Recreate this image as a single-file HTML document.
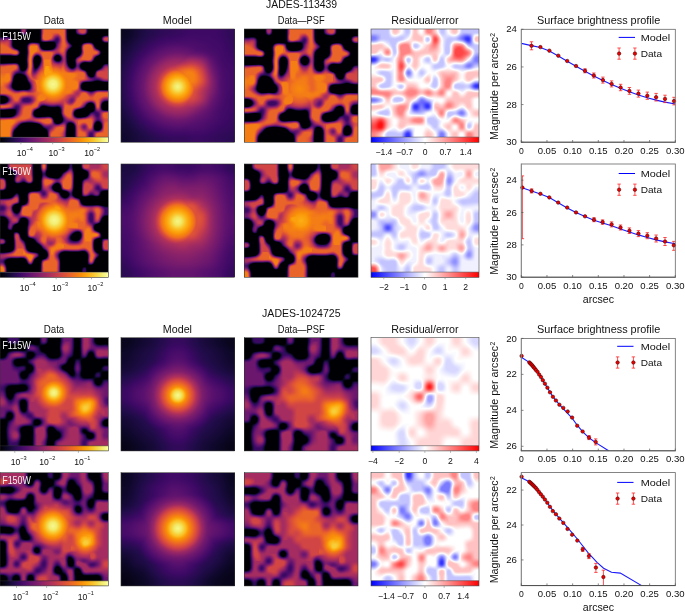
<!DOCTYPE html>
<html><head><meta charset="utf-8"><title>JADES profiles</title>
<style>
html,body{margin:0;padding:0;background:#fff}
#fig{position:relative;width:685px;height:612px;overflow:hidden;background:#fff;font-family:'Liberation Sans', Arial, Helvetica, sans-serif}
canvas{position:absolute;display:block}
svg{position:absolute;left:0;top:0}
svg text{font-family:'Liberation Sans', Arial, Helvetica, sans-serif}
</style></head><body>
<div id="fig">
<canvas id="d0" width="217" height="216" style="left:0.00px;top:29.00px;width:108.30px;height:108.20px;background:radial-gradient(circle at 50% 50%, #fbe070 0, #f28a1a 8%, #b84838 24%, #4a1634 50%, #1c0818 85%)"></canvas>
<canvas id="m0" width="227" height="227" style="left:121.00px;top:29.00px;width:113.60px;height:113.30px;background:radial-gradient(circle at 50% 50%, #fcf0a0 0, #f98e09 9%, #bc3754 17%, #71196e 26%, #3d0965 45%, #1e0a42 80%)"></canvas>
<canvas id="p0" width="227" height="227" style="left:244.30px;top:29.00px;width:113.70px;height:113.30px;background:radial-gradient(circle at 50% 50%, #e86a28 0, #b84838 22%, #4a1634 50%, #1c0818 85%)"></canvas>
<canvas id="r0" width="216" height="216" style="left:371.00px;top:29.00px;width:108.00px;height:108.10px;background:#f3eef6"></canvas>
<canvas id="d1" width="217" height="216" style="left:0.00px;top:164.00px;width:108.30px;height:108.20px;background:radial-gradient(circle at 50% 50%, #fbe070 0, #f28a1a 8%, #b84838 24%, #4a1634 50%, #1c0818 85%)"></canvas>
<canvas id="m1" width="227" height="227" style="left:121.00px;top:164.00px;width:113.60px;height:113.30px;background:radial-gradient(circle at 50% 50%, #fcf0a0 0, #f98e09 9%, #bc3754 17%, #71196e 26%, #3d0965 45%, #1e0a42 80%)"></canvas>
<canvas id="p1" width="227" height="227" style="left:244.30px;top:164.00px;width:113.70px;height:113.30px;background:radial-gradient(circle at 50% 50%, #e86a28 0, #b84838 22%, #4a1634 50%, #1c0818 85%)"></canvas>
<canvas id="r1" width="216" height="216" style="left:371.00px;top:164.00px;width:108.00px;height:108.10px;background:#f3eef6"></canvas>
<canvas id="d2" width="217" height="216" style="left:0.00px;top:337.60px;width:108.30px;height:108.20px;background:radial-gradient(circle at 50% 50%, #fbe070 0, #f28a1a 8%, #b84838 24%, #4a1634 50%, #1c0818 85%)"></canvas>
<canvas id="m2" width="227" height="227" style="left:121.00px;top:337.60px;width:113.60px;height:113.30px;background:radial-gradient(circle at 50% 50%, #fcf0a0 0, #f98e09 9%, #bc3754 17%, #71196e 26%, #3d0965 45%, #1e0a42 80%)"></canvas>
<canvas id="p2" width="227" height="227" style="left:244.30px;top:337.60px;width:113.70px;height:113.30px;background:radial-gradient(circle at 50% 50%, #e86a28 0, #b84838 22%, #4a1634 50%, #1c0818 85%)"></canvas>
<canvas id="r2" width="216" height="216" style="left:371.00px;top:337.60px;width:108.00px;height:108.10px;background:#f3eef6"></canvas>
<canvas id="d3" width="217" height="216" style="left:0.00px;top:472.60px;width:108.30px;height:108.20px;background:radial-gradient(circle at 50% 50%, #fbe070 0, #f28a1a 8%, #b84838 24%, #4a1634 50%, #1c0818 85%)"></canvas>
<canvas id="m3" width="227" height="227" style="left:121.00px;top:472.60px;width:113.60px;height:113.30px;background:radial-gradient(circle at 50% 50%, #fcf0a0 0, #f98e09 9%, #bc3754 17%, #71196e 26%, #3d0965 45%, #1e0a42 80%)"></canvas>
<canvas id="p3" width="227" height="227" style="left:244.30px;top:472.60px;width:113.70px;height:113.30px;background:radial-gradient(circle at 50% 50%, #e86a28 0, #b84838 22%, #4a1634 50%, #1c0818 85%)"></canvas>
<canvas id="r3" width="216" height="216" style="left:371.00px;top:472.60px;width:108.00px;height:108.10px;background:#f3eef6"></canvas>
<svg width="685" height="612" viewBox="0 0 685 612">
<defs><linearGradient id="ginf" x1="0" y1="0" x2="1" y2="0"><stop offset="0.0000" stop-color="#000004"/><stop offset="0.0625" stop-color="#0b0724"/><stop offset="0.1250" stop-color="#210c4a"/><stop offset="0.1875" stop-color="#3d0965"/><stop offset="0.2500" stop-color="#57106e"/><stop offset="0.3125" stop-color="#71196e"/><stop offset="0.3750" stop-color="#8a226a"/><stop offset="0.4375" stop-color="#a32c61"/><stop offset="0.5000" stop-color="#bc3754"/><stop offset="0.5625" stop-color="#d24644"/><stop offset="0.6250" stop-color="#e45a31"/><stop offset="0.6875" stop-color="#f1731d"/><stop offset="0.7500" stop-color="#f98e09"/><stop offset="0.8125" stop-color="#fcac11"/><stop offset="0.8750" stop-color="#f9cb35"/><stop offset="0.9375" stop-color="#f2ea69"/><stop offset="1.0000" stop-color="#fcffa4"/></linearGradient><linearGradient id="gbwr" x1="0" y1="0" x2="1" y2="0"><stop offset="0.0000" stop-color="#0000ff"/><stop offset="0.1250" stop-color="#4040ff"/><stop offset="0.2500" stop-color="#8080ff"/><stop offset="0.3750" stop-color="#c0c0ff"/><stop offset="0.5000" stop-color="#ffffff"/><stop offset="0.6250" stop-color="#ffbebe"/><stop offset="0.7500" stop-color="#ff7e7e"/><stop offset="0.8750" stop-color="#ff3e3e"/><stop offset="1.0000" stop-color="#ff0000"/></linearGradient></defs>
<text x="301.60" y="8.40" font-size="10.2" text-anchor="middle" textLength="71" lengthAdjust="spacingAndGlyphs" fill="#111">JADES-113439</text>
<text x="301.30" y="317.40" font-size="10.2" text-anchor="middle" textLength="78.4" lengthAdjust="spacingAndGlyphs" fill="#111">JADES-1024725</text>
<text x="54.00" y="24.10" font-size="10.1" text-anchor="middle" textLength="20.6" lengthAdjust="spacingAndGlyphs" fill="#111">Data</text>
<text x="177.40" y="24.10" font-size="10.1" text-anchor="middle" textLength="29.2" lengthAdjust="spacingAndGlyphs" fill="#111">Model</text>
<text x="301.20" y="24.10" font-size="10.1" text-anchor="middle" textLength="47" lengthAdjust="spacingAndGlyphs" fill="#111">Data—PSF</text>
<text x="424.90" y="24.10" font-size="10.1" text-anchor="middle" textLength="67.3" lengthAdjust="spacingAndGlyphs" fill="#111">Residual/error</text>
<text x="598.60" y="24.10" font-size="10.1" text-anchor="middle" textLength="123.3" lengthAdjust="spacingAndGlyphs" fill="#111">Surface brightness profile</text>
<text x="54.00" y="332.70" font-size="10.1" text-anchor="middle" textLength="20.6" lengthAdjust="spacingAndGlyphs" fill="#111">Data</text>
<text x="177.40" y="332.70" font-size="10.1" text-anchor="middle" textLength="29.2" lengthAdjust="spacingAndGlyphs" fill="#111">Model</text>
<text x="301.20" y="332.70" font-size="10.1" text-anchor="middle" textLength="47" lengthAdjust="spacingAndGlyphs" fill="#111">Data—PSF</text>
<text x="424.90" y="332.70" font-size="10.1" text-anchor="middle" textLength="67.3" lengthAdjust="spacingAndGlyphs" fill="#111">Residual/error</text>
<text x="598.60" y="332.70" font-size="10.1" text-anchor="middle" textLength="123.3" lengthAdjust="spacingAndGlyphs" fill="#111">Surface brightness profile</text>
<rect x="0.00" y="137.20" width="108.30" height="5.10" fill="url(#ginf)" stroke="none" stroke-width="0.8"/>
<rect x="0.00" y="29.00" width="108.30" height="113.30" fill="none" stroke="#333" stroke-width="0.6"/>
<line x1="0.00" y1="137.20" x2="108.30" y2="137.20" stroke="#333" stroke-width="0.5"/>
<line x1="20.90" y1="142.30" x2="20.90" y2="144.30" stroke="#888" stroke-width="0.6"/>
<text x="16.80" y="156.00" font-size="8.6" fill="#111">10</text>
<text x="26.40" y="151.30" font-size="5.6" fill="#111">−4</text>
<line x1="52.70" y1="142.30" x2="52.70" y2="144.30" stroke="#888" stroke-width="0.6"/>
<text x="48.60" y="156.00" font-size="8.6" fill="#111">10</text>
<text x="58.20" y="151.30" font-size="5.6" fill="#111">−3</text>
<line x1="88.30" y1="142.30" x2="88.30" y2="144.30" stroke="#888" stroke-width="0.6"/>
<text x="84.20" y="156.00" font-size="8.6" fill="#111">10</text>
<text x="93.80" y="151.30" font-size="5.6" fill="#111">−2</text>
<text x="2.20" y="40.20" font-size="10.0" textLength="28.7" lengthAdjust="spacingAndGlyphs" fill="#f4f4f4">F115W</text>
<rect x="121.00" y="29.00" width="113.60" height="113.30" fill="none" stroke="#333" stroke-width="0.6"/>
<rect x="244.30" y="29.00" width="113.70" height="113.30" fill="none" stroke="#333" stroke-width="0.6"/>
<rect x="371.00" y="137.10" width="108.00" height="5.20" fill="url(#gbwr)" stroke="none" stroke-width="0.8"/>
<rect x="371.00" y="29.00" width="108.00" height="113.30" fill="none" stroke="#444" stroke-width="0.6"/>
<line x1="371.00" y1="137.10" x2="479.00" y2="137.10" stroke="#444" stroke-width="0.5"/>
<line x1="383.90" y1="142.30" x2="383.90" y2="144.30" stroke="#888" stroke-width="0.6"/>
<text x="383.90" y="155.00" font-size="8.6" text-anchor="middle" fill="#111">−1.4</text>
<line x1="404.60" y1="142.30" x2="404.60" y2="144.30" stroke="#888" stroke-width="0.6"/>
<text x="404.60" y="155.00" font-size="8.6" text-anchor="middle" fill="#111">−0.7</text>
<line x1="425.10" y1="142.30" x2="425.10" y2="144.30" stroke="#888" stroke-width="0.6"/>
<text x="425.10" y="155.00" font-size="8.6" text-anchor="middle" fill="#111">0</text>
<line x1="445.40" y1="142.30" x2="445.40" y2="144.30" stroke="#888" stroke-width="0.6"/>
<text x="445.40" y="155.00" font-size="8.6" text-anchor="middle" fill="#111">0.7</text>
<line x1="465.70" y1="142.30" x2="465.70" y2="144.30" stroke="#888" stroke-width="0.6"/>
<text x="465.70" y="155.00" font-size="8.6" text-anchor="middle" fill="#111">1.4</text>
<rect x="0.00" y="272.20" width="108.30" height="5.10" fill="url(#ginf)" stroke="none" stroke-width="0.8"/>
<rect x="0.00" y="164.00" width="108.30" height="113.30" fill="none" stroke="#333" stroke-width="0.6"/>
<line x1="0.00" y1="272.20" x2="108.30" y2="272.20" stroke="#333" stroke-width="0.5"/>
<line x1="23.80" y1="277.30" x2="23.80" y2="279.30" stroke="#888" stroke-width="0.6"/>
<text x="19.70" y="291.00" font-size="8.6" fill="#111">10</text>
<text x="29.30" y="286.30" font-size="5.6" fill="#111">−4</text>
<line x1="56.20" y1="277.30" x2="56.20" y2="279.30" stroke="#888" stroke-width="0.6"/>
<text x="52.10" y="291.00" font-size="8.6" fill="#111">10</text>
<text x="61.70" y="286.30" font-size="5.6" fill="#111">−3</text>
<line x1="91.50" y1="277.30" x2="91.50" y2="279.30" stroke="#888" stroke-width="0.6"/>
<text x="87.40" y="291.00" font-size="8.6" fill="#111">10</text>
<text x="97.00" y="286.30" font-size="5.6" fill="#111">−2</text>
<text x="2.20" y="175.20" font-size="10.0" textLength="28.7" lengthAdjust="spacingAndGlyphs" fill="#f4f4f4">F150W</text>
<rect x="121.00" y="164.00" width="113.60" height="113.30" fill="none" stroke="#333" stroke-width="0.6"/>
<rect x="244.30" y="164.00" width="113.70" height="113.30" fill="none" stroke="#333" stroke-width="0.6"/>
<rect x="371.00" y="272.10" width="108.00" height="5.20" fill="url(#gbwr)" stroke="none" stroke-width="0.8"/>
<rect x="371.00" y="164.00" width="108.00" height="113.30" fill="none" stroke="#444" stroke-width="0.6"/>
<line x1="371.00" y1="272.10" x2="479.00" y2="272.10" stroke="#444" stroke-width="0.5"/>
<line x1="383.80" y1="277.30" x2="383.80" y2="279.30" stroke="#888" stroke-width="0.6"/>
<text x="383.80" y="290.00" font-size="8.6" text-anchor="middle" fill="#111">−2</text>
<line x1="404.40" y1="277.30" x2="404.40" y2="279.30" stroke="#888" stroke-width="0.6"/>
<text x="404.40" y="290.00" font-size="8.6" text-anchor="middle" fill="#111">−1</text>
<line x1="424.50" y1="277.30" x2="424.50" y2="279.30" stroke="#888" stroke-width="0.6"/>
<text x="424.50" y="290.00" font-size="8.6" text-anchor="middle" fill="#111">0</text>
<line x1="445.10" y1="277.30" x2="445.10" y2="279.30" stroke="#888" stroke-width="0.6"/>
<text x="445.10" y="290.00" font-size="8.6" text-anchor="middle" fill="#111">1</text>
<line x1="465.70" y1="277.30" x2="465.70" y2="279.30" stroke="#888" stroke-width="0.6"/>
<text x="465.70" y="290.00" font-size="8.6" text-anchor="middle" fill="#111">2</text>
<rect x="0.00" y="445.80" width="108.30" height="5.10" fill="url(#ginf)" stroke="none" stroke-width="0.8"/>
<rect x="0.00" y="337.60" width="108.30" height="113.30" fill="none" stroke="#333" stroke-width="0.6"/>
<line x1="0.00" y1="445.80" x2="108.30" y2="445.80" stroke="#333" stroke-width="0.5"/>
<line x1="14.80" y1="450.90" x2="14.80" y2="452.90" stroke="#888" stroke-width="0.6"/>
<text x="10.70" y="464.60" font-size="8.6" fill="#111">10</text>
<text x="20.30" y="459.90" font-size="5.6" fill="#111">−3</text>
<line x1="43.40" y1="450.90" x2="43.40" y2="452.90" stroke="#888" stroke-width="0.6"/>
<text x="39.30" y="464.60" font-size="8.6" fill="#111">10</text>
<text x="48.90" y="459.90" font-size="5.6" fill="#111">−2</text>
<line x1="78.40" y1="450.90" x2="78.40" y2="452.90" stroke="#888" stroke-width="0.6"/>
<text x="74.30" y="464.60" font-size="8.6" fill="#111">10</text>
<text x="83.90" y="459.90" font-size="5.6" fill="#111">−1</text>
<text x="2.20" y="348.80" font-size="10.0" textLength="28.7" lengthAdjust="spacingAndGlyphs" fill="#f4f4f4">F115W</text>
<rect x="121.00" y="337.60" width="113.60" height="113.30" fill="none" stroke="#333" stroke-width="0.6"/>
<rect x="244.30" y="337.60" width="113.70" height="113.30" fill="none" stroke="#333" stroke-width="0.6"/>
<rect x="371.00" y="445.70" width="108.00" height="5.20" fill="url(#gbwr)" stroke="none" stroke-width="0.8"/>
<rect x="371.00" y="337.60" width="108.00" height="113.30" fill="none" stroke="#444" stroke-width="0.6"/>
<line x1="371.00" y1="445.70" x2="479.00" y2="445.70" stroke="#444" stroke-width="0.5"/>
<line x1="372.90" y1="450.90" x2="372.90" y2="452.90" stroke="#888" stroke-width="0.6"/>
<text x="372.90" y="463.60" font-size="8.6" text-anchor="middle" fill="#111">−4</text>
<line x1="399.20" y1="450.90" x2="399.20" y2="452.90" stroke="#888" stroke-width="0.6"/>
<text x="399.20" y="463.60" font-size="8.6" text-anchor="middle" fill="#111">−2</text>
<line x1="424.90" y1="450.90" x2="424.90" y2="452.90" stroke="#888" stroke-width="0.6"/>
<text x="424.90" y="463.60" font-size="8.6" text-anchor="middle" fill="#111">0</text>
<line x1="450.50" y1="450.90" x2="450.50" y2="452.90" stroke="#888" stroke-width="0.6"/>
<text x="450.50" y="463.60" font-size="8.6" text-anchor="middle" fill="#111">2</text>
<line x1="476.40" y1="450.90" x2="476.40" y2="452.90" stroke="#888" stroke-width="0.6"/>
<text x="476.40" y="463.60" font-size="8.6" text-anchor="middle" fill="#111">4</text>
<rect x="0.00" y="580.80" width="108.30" height="5.10" fill="url(#ginf)" stroke="none" stroke-width="0.8"/>
<rect x="0.00" y="472.60" width="108.30" height="113.30" fill="none" stroke="#333" stroke-width="0.6"/>
<line x1="0.00" y1="580.80" x2="108.30" y2="580.80" stroke="#333" stroke-width="0.5"/>
<line x1="16.50" y1="585.90" x2="16.50" y2="587.90" stroke="#888" stroke-width="0.6"/>
<text x="12.40" y="599.60" font-size="8.6" fill="#111">10</text>
<text x="22.00" y="594.90" font-size="5.6" fill="#111">−3</text>
<line x1="46.60" y1="585.90" x2="46.60" y2="587.90" stroke="#888" stroke-width="0.6"/>
<text x="42.50" y="599.60" font-size="8.6" fill="#111">10</text>
<text x="52.10" y="594.90" font-size="5.6" fill="#111">−2</text>
<line x1="81.90" y1="585.90" x2="81.90" y2="587.90" stroke="#888" stroke-width="0.6"/>
<text x="77.80" y="599.60" font-size="8.6" fill="#111">10</text>
<text x="87.40" y="594.90" font-size="5.6" fill="#111">−1</text>
<text x="2.20" y="483.80" font-size="10.0" textLength="28.7" lengthAdjust="spacingAndGlyphs" fill="#f4f4f4">F150W</text>
<rect x="121.00" y="472.60" width="113.60" height="113.30" fill="none" stroke="#333" stroke-width="0.6"/>
<rect x="244.30" y="472.60" width="113.70" height="113.30" fill="none" stroke="#333" stroke-width="0.6"/>
<rect x="371.00" y="580.70" width="108.00" height="5.20" fill="url(#gbwr)" stroke="none" stroke-width="0.8"/>
<rect x="371.00" y="472.60" width="108.00" height="113.30" fill="none" stroke="#444" stroke-width="0.6"/>
<line x1="371.00" y1="580.70" x2="479.00" y2="580.70" stroke="#444" stroke-width="0.5"/>
<line x1="386.40" y1="585.90" x2="386.40" y2="587.90" stroke="#888" stroke-width="0.6"/>
<text x="386.40" y="598.60" font-size="8.6" text-anchor="middle" fill="#111">−1.4</text>
<line x1="405.60" y1="585.90" x2="405.60" y2="587.90" stroke="#888" stroke-width="0.6"/>
<text x="405.60" y="598.60" font-size="8.6" text-anchor="middle" fill="#111">−0.7</text>
<line x1="424.90" y1="585.90" x2="424.90" y2="587.90" stroke="#888" stroke-width="0.6"/>
<text x="424.90" y="598.60" font-size="8.6" text-anchor="middle" fill="#111">0</text>
<line x1="444.20" y1="585.90" x2="444.20" y2="587.90" stroke="#888" stroke-width="0.6"/>
<text x="444.20" y="598.60" font-size="8.6" text-anchor="middle" fill="#111">0.7</text>
<line x1="463.30" y1="585.90" x2="463.30" y2="587.90" stroke="#888" stroke-width="0.6"/>
<text x="463.30" y="598.60" font-size="8.6" text-anchor="middle" fill="#111">1.4</text>
<clipPath id="cp0"><rect x="521.3" y="29.3" width="154.0" height="112.89999999999999"/></clipPath>
<polyline points="521.30,43.40 531.50,45.60 540.40,47.50 549.40,51.00 558.30,56.00 567.20,61.20 576.00,66.20 585.00,71.20 593.80,75.90 602.90,80.40 611.60,84.50 620.60,88.30 629.40,91.80 638.40,94.90 647.30,97.70 656.10,100.10 665.00,102.10 675.30,104.00" fill="none" stroke="#1a1aff" stroke-width="1.1" clip-path="url(#cp0)"/>
<path d="M531.50 41.80V49.80M529.80 41.80h3.4M529.80 49.80h3.4M585.00 68.80V72.80M583.30 68.80h3.4M583.30 72.80h3.4M593.80 73.00V78.00M592.10 73.00h3.4M592.10 78.00h3.4M602.90 77.10V83.10M601.20 77.10h3.4M601.20 83.10h3.4M611.60 80.90V86.90M609.90 80.90h3.4M609.90 86.90h3.4M620.60 84.30V90.70M618.90 84.30h3.4M618.90 90.70h3.4M629.40 87.50V94.30M627.70 87.50h3.4M627.70 94.30h3.4M638.40 90.10V97.10M636.70 90.10h3.4M636.70 97.10h3.4M647.30 92.10V99.30M645.60 92.10h3.4M645.60 99.30h3.4M656.10 93.40V101.00M654.40 93.40h3.4M654.40 101.00h3.4M665.00 95.20V102.60M663.30 95.20h3.4M663.30 102.60h3.4M674.00 97.30V104.90M672.30 97.30h3.4M672.30 104.90h3.4" stroke="#ff1a1a" stroke-width="0.85" fill="none" opacity="0.9" clip-path="url(#cp0)"/>
<g fill="#ee0000" stroke="#400000" stroke-width="0.55"><circle cx="531.50" cy="45.80" r="1.75"/><circle cx="540.40" cy="47.10" r="1.75"/><circle cx="549.40" cy="50.70" r="1.75"/><circle cx="558.30" cy="55.70" r="1.75"/><circle cx="567.20" cy="61.00" r="1.75"/><circle cx="576.00" cy="66.00" r="1.75"/><circle cx="585.00" cy="70.80" r="1.75"/><circle cx="593.80" cy="75.50" r="1.75"/><circle cx="602.90" cy="80.10" r="1.75"/><circle cx="611.60" cy="83.90" r="1.75"/><circle cx="620.60" cy="87.50" r="1.75"/><circle cx="629.40" cy="90.90" r="1.75"/><circle cx="638.40" cy="93.60" r="1.75"/><circle cx="647.30" cy="95.70" r="1.75"/><circle cx="656.10" cy="97.20" r="1.75"/><circle cx="665.00" cy="98.90" r="1.75"/><circle cx="674.00" cy="101.10" r="1.75"/></g>
<rect x="521.30" y="29.30" width="154.00" height="112.90" fill="none" stroke="#666" stroke-width="0.8"/>
<line x1="521.30" y1="28.90" x2="521.30" y2="142.60" stroke="#8c8c8c" stroke-width="0.8"/>
<line x1="520.90" y1="142.20" x2="675.70" y2="142.20" stroke="#404040" stroke-width="0.8"/>
<line x1="521.30" y1="29.30" x2="523.50" y2="29.30" stroke="#555" stroke-width="0.7"/>
<text x="516.90" y="32.40" font-size="8.6" text-anchor="end" textLength="10.7" lengthAdjust="spacingAndGlyphs" fill="#111">24</text>
<line x1="521.30" y1="66.93" x2="523.50" y2="66.93" stroke="#555" stroke-width="0.7"/>
<text x="516.90" y="70.03" font-size="8.6" text-anchor="end" textLength="10.7" lengthAdjust="spacingAndGlyphs" fill="#111">26</text>
<line x1="521.30" y1="104.57" x2="523.50" y2="104.57" stroke="#555" stroke-width="0.7"/>
<text x="516.90" y="107.67" font-size="8.6" text-anchor="end" textLength="10.7" lengthAdjust="spacingAndGlyphs" fill="#111">28</text>
<line x1="521.30" y1="142.20" x2="523.50" y2="142.20" stroke="#555" stroke-width="0.7"/>
<text x="516.90" y="145.30" font-size="8.6" text-anchor="end" textLength="10.7" lengthAdjust="spacingAndGlyphs" fill="#111">30</text>
<line x1="521.30" y1="142.20" x2="521.30" y2="140.00" stroke="#555" stroke-width="0.7"/>
<text x="521.30" y="153.80" font-size="8.6" text-anchor="middle" fill="#111">0</text>
<line x1="546.97" y1="142.20" x2="546.97" y2="140.00" stroke="#555" stroke-width="0.7"/>
<text x="546.97" y="153.80" font-size="8.6" text-anchor="middle" textLength="18.6" lengthAdjust="spacingAndGlyphs" fill="#111">0.05</text>
<line x1="572.63" y1="142.20" x2="572.63" y2="140.00" stroke="#555" stroke-width="0.7"/>
<text x="572.63" y="153.80" font-size="8.6" text-anchor="middle" textLength="18.6" lengthAdjust="spacingAndGlyphs" fill="#111">0.10</text>
<line x1="598.30" y1="142.20" x2="598.30" y2="140.00" stroke="#555" stroke-width="0.7"/>
<text x="598.30" y="153.80" font-size="8.6" text-anchor="middle" textLength="18.6" lengthAdjust="spacingAndGlyphs" fill="#111">0.15</text>
<line x1="623.97" y1="142.20" x2="623.97" y2="140.00" stroke="#555" stroke-width="0.7"/>
<text x="623.97" y="153.80" font-size="8.6" text-anchor="middle" textLength="18.6" lengthAdjust="spacingAndGlyphs" fill="#111">0.20</text>
<line x1="649.63" y1="142.20" x2="649.63" y2="140.00" stroke="#555" stroke-width="0.7"/>
<text x="649.63" y="153.80" font-size="8.6" text-anchor="middle" textLength="18.6" lengthAdjust="spacingAndGlyphs" fill="#111">0.25</text>
<line x1="675.30" y1="142.20" x2="675.30" y2="140.00" stroke="#555" stroke-width="0.7"/>
<text x="675.30" y="153.80" font-size="8.6" text-anchor="middle" textLength="18.6" lengthAdjust="spacingAndGlyphs" fill="#111">0.30</text>
<text transform="translate(498.2,140.00) rotate(-90)" font-size="10.0" textLength="103" lengthAdjust="spacingAndGlyphs" fill="#111">Magnitude per arcsec</text>
<text transform="translate(494.6,36.70) rotate(-90)" font-size="6.8" fill="#111">2</text>
<line x1="618.70" y1="37.40" x2="635.00" y2="37.40" stroke="#0000ff" stroke-width="1.0"/>
<text x="640.70" y="41.00" font-size="9.6" textLength="29.5" lengthAdjust="spacingAndGlyphs" fill="#111">Model</text>
<path d="M619.1 47.99999999999999V59.199999999999996M617.4 47.99999999999999h3.4M617.4 59.199999999999996h3.4" stroke="#ff1a1a" stroke-width="0.85" opacity="0.9"/>
<circle cx="619.1" cy="53.599999999999994" r="1.75" fill="#ee0000" stroke="#400000" stroke-width="0.55"/>
<path d="M634.9 47.99999999999999V59.199999999999996M633.1999999999999 47.99999999999999h3.4M633.1999999999999 59.199999999999996h3.4" stroke="#ff1a1a" stroke-width="0.85" opacity="0.9"/>
<circle cx="634.9" cy="53.599999999999994" r="1.75" fill="#ee0000" stroke="#400000" stroke-width="0.55"/>
<text x="640.70" y="57.20" font-size="9.6" textLength="21.3" lengthAdjust="spacingAndGlyphs" fill="#111">Data</text>
<clipPath id="cp1"><rect x="521.3" y="164.0" width="154.0" height="113.19999999999999"/></clipPath>
<polyline points="521.30,187.50 531.60,191.00 540.40,194.00 549.30,197.60 558.20,202.80 567.20,207.90 576.00,212.60 585.00,216.60 594.00,220.20 602.60,223.00 611.60,225.80 620.50,228.90 629.40,232.00 638.40,234.90 647.30,237.50 656.10,239.90 665.00,241.90 675.30,243.80" fill="none" stroke="#1a1aff" stroke-width="1.1" clip-path="url(#cp1)"/>
<path d="M522.40 175.90V238.70M520.70 175.90h3.4M520.70 238.70h3.4M531.60 188.90V192.90M529.90 188.90h3.4M529.90 192.90h3.4M594.00 217.70V221.70M592.30 217.70h3.4M592.30 221.70h3.4M602.60 219.90V224.30M600.90 219.90h3.4M600.90 224.30h3.4M611.60 221.90V226.90M609.90 221.90h3.4M609.90 226.90h3.4M620.50 225.00V230.00M618.80 225.00h3.4M618.80 230.00h3.4M629.40 227.90V233.50M627.70 227.90h3.4M627.70 233.50h3.4M638.40 230.60V236.60M636.70 230.60h3.4M636.70 236.60h3.4M647.30 232.70V238.70M645.60 232.70h3.4M645.60 238.70h3.4M656.10 235.00V242.00M654.40 235.00h3.4M654.40 242.00h3.4M665.00 237.50V245.50M663.30 237.50h3.4M663.30 245.50h3.4M673.80 241.40V250.30M672.10 241.40h3.4M672.10 250.30h3.4" stroke="#ff1a1a" stroke-width="0.85" fill="none" opacity="0.9" clip-path="url(#cp1)"/>
<g fill="#ee0000" stroke="#400000" stroke-width="0.55"><circle cx="522.40" cy="187.60" r="1.75"/><circle cx="531.60" cy="190.90" r="1.75"/><circle cx="540.40" cy="193.80" r="1.75"/><circle cx="549.30" cy="197.40" r="1.75"/><circle cx="558.20" cy="202.60" r="1.75"/><circle cx="567.20" cy="207.60" r="1.75"/><circle cx="576.00" cy="212.40" r="1.75"/><circle cx="585.00" cy="216.30" r="1.75"/><circle cx="594.00" cy="219.70" r="1.75"/><circle cx="602.60" cy="222.10" r="1.75"/><circle cx="611.60" cy="224.40" r="1.75"/><circle cx="620.50" cy="227.50" r="1.75"/><circle cx="629.40" cy="230.70" r="1.75"/><circle cx="638.40" cy="233.60" r="1.75"/><circle cx="647.30" cy="235.70" r="1.75"/><circle cx="656.10" cy="238.50" r="1.75"/><circle cx="665.00" cy="241.50" r="1.75"/><circle cx="673.80" cy="245.30" r="1.75"/></g>
<rect x="521.30" y="164.00" width="154.00" height="113.20" fill="none" stroke="#666" stroke-width="0.8"/>
<line x1="521.30" y1="163.60" x2="521.30" y2="277.60" stroke="#8c8c8c" stroke-width="0.8"/>
<line x1="520.90" y1="277.20" x2="675.70" y2="277.20" stroke="#404040" stroke-width="0.8"/>
<line x1="521.30" y1="180.17" x2="523.50" y2="180.17" stroke="#555" stroke-width="0.7"/>
<text x="516.90" y="183.27" font-size="8.6" text-anchor="end" textLength="10.7" lengthAdjust="spacingAndGlyphs" fill="#111">24</text>
<line x1="521.30" y1="212.51" x2="523.50" y2="212.51" stroke="#555" stroke-width="0.7"/>
<text x="516.90" y="215.61" font-size="8.6" text-anchor="end" textLength="10.7" lengthAdjust="spacingAndGlyphs" fill="#111">26</text>
<line x1="521.30" y1="244.86" x2="523.50" y2="244.86" stroke="#555" stroke-width="0.7"/>
<text x="516.90" y="247.96" font-size="8.6" text-anchor="end" textLength="10.7" lengthAdjust="spacingAndGlyphs" fill="#111">28</text>
<line x1="521.30" y1="277.20" x2="523.50" y2="277.20" stroke="#555" stroke-width="0.7"/>
<text x="516.90" y="280.30" font-size="8.6" text-anchor="end" textLength="10.7" lengthAdjust="spacingAndGlyphs" fill="#111">30</text>
<line x1="521.30" y1="277.20" x2="521.30" y2="275.00" stroke="#555" stroke-width="0.7"/>
<text x="521.30" y="288.80" font-size="8.6" text-anchor="middle" fill="#111">0</text>
<line x1="546.97" y1="277.20" x2="546.97" y2="275.00" stroke="#555" stroke-width="0.7"/>
<text x="546.97" y="288.80" font-size="8.6" text-anchor="middle" textLength="18.6" lengthAdjust="spacingAndGlyphs" fill="#111">0.05</text>
<line x1="572.63" y1="277.20" x2="572.63" y2="275.00" stroke="#555" stroke-width="0.7"/>
<text x="572.63" y="288.80" font-size="8.6" text-anchor="middle" textLength="18.6" lengthAdjust="spacingAndGlyphs" fill="#111">0.10</text>
<line x1="598.30" y1="277.20" x2="598.30" y2="275.00" stroke="#555" stroke-width="0.7"/>
<text x="598.30" y="288.80" font-size="8.6" text-anchor="middle" textLength="18.6" lengthAdjust="spacingAndGlyphs" fill="#111">0.15</text>
<line x1="623.97" y1="277.20" x2="623.97" y2="275.00" stroke="#555" stroke-width="0.7"/>
<text x="623.97" y="288.80" font-size="8.6" text-anchor="middle" textLength="18.6" lengthAdjust="spacingAndGlyphs" fill="#111">0.20</text>
<line x1="649.63" y1="277.20" x2="649.63" y2="275.00" stroke="#555" stroke-width="0.7"/>
<text x="649.63" y="288.80" font-size="8.6" text-anchor="middle" textLength="18.6" lengthAdjust="spacingAndGlyphs" fill="#111">0.25</text>
<line x1="675.30" y1="277.20" x2="675.30" y2="275.00" stroke="#555" stroke-width="0.7"/>
<text x="675.30" y="288.80" font-size="8.6" text-anchor="middle" textLength="18.6" lengthAdjust="spacingAndGlyphs" fill="#111">0.30</text>
<text transform="translate(498.2,274.85) rotate(-90)" font-size="10.0" textLength="103" lengthAdjust="spacingAndGlyphs" fill="#111">Magnitude per arcsec</text>
<text transform="translate(494.6,171.55) rotate(-90)" font-size="6.8" fill="#111">2</text>
<line x1="618.70" y1="173.50" x2="635.00" y2="173.50" stroke="#0000ff" stroke-width="1.0"/>
<text x="640.70" y="177.10" font-size="9.6" textLength="29.5" lengthAdjust="spacingAndGlyphs" fill="#111">Model</text>
<path d="M619.1 184.1V195.29999999999998M617.4 184.1h3.4M617.4 195.29999999999998h3.4" stroke="#ff1a1a" stroke-width="0.85" opacity="0.9"/>
<circle cx="619.1" cy="189.7" r="1.75" fill="#ee0000" stroke="#400000" stroke-width="0.55"/>
<path d="M634.9 184.1V195.29999999999998M633.1999999999999 184.1h3.4M633.1999999999999 195.29999999999998h3.4" stroke="#ff1a1a" stroke-width="0.85" opacity="0.9"/>
<circle cx="634.9" cy="189.7" r="1.75" fill="#ee0000" stroke="#400000" stroke-width="0.55"/>
<text x="640.70" y="193.30" font-size="9.6" textLength="21.3" lengthAdjust="spacingAndGlyphs" fill="#111">Data</text>
<text x="598.40" y="302.50" font-size="10.0" text-anchor="middle" textLength="31.2" lengthAdjust="spacingAndGlyphs" fill="#111">arcsec</text>
<clipPath id="cp2"><rect x="521.3" y="338.4" width="154.0" height="112.40000000000003"/></clipPath>
<polyline points="521.30,357.30 529.30,362.40 533.40,366.90 537.50,371.80 542.80,380.20 547.40,387.90 552.90,396.80 559.40,404.70 566.00,411.60 572.10,418.20 577.20,425.20 582.60,431.60 589.00,437.80 595.70,442.60 608.60,450.80" fill="none" stroke="#1a1aff" stroke-width="1.1" clip-path="url(#cp2)"/>
<path d="M589.00 435.60V439.60M587.30 435.60h3.4M587.30 439.60h3.4M595.70 438.90V444.90M594.00 438.90h3.4M594.00 444.90h3.4" stroke="#ff1a1a" stroke-width="0.85" fill="none" opacity="0.9" clip-path="url(#cp2)"/>
<g fill="#ee0000" stroke="#400000" stroke-width="0.55"><circle cx="521.60" cy="355.90" r="1.75"/><circle cx="529.30" cy="362.40" r="1.75"/><circle cx="530.30" cy="363.40" r="1.75"/><circle cx="531.30" cy="364.40" r="1.75"/><circle cx="532.40" cy="365.60" r="1.75"/><circle cx="533.40" cy="366.90" r="1.75"/><circle cx="534.60" cy="368.30" r="1.75"/><circle cx="535.90" cy="370.00" r="1.75"/><circle cx="537.50" cy="371.80" r="1.75"/><circle cx="539.20" cy="374.60" r="1.75"/><circle cx="541.00" cy="377.10" r="1.75"/><circle cx="542.80" cy="380.20" r="1.75"/><circle cx="544.90" cy="383.70" r="1.75"/><circle cx="547.40" cy="387.70" r="1.75"/><circle cx="550.00" cy="392.30" r="1.75"/><circle cx="552.90" cy="396.80" r="1.75"/><circle cx="555.90" cy="400.50" r="1.75"/><circle cx="559.40" cy="404.70" r="1.75"/><circle cx="563.30" cy="407.90" r="1.75"/><circle cx="567.70" cy="411.50" r="1.75"/><circle cx="572.10" cy="417.60" r="1.75"/><circle cx="577.20" cy="425.70" r="1.75"/><circle cx="582.60" cy="431.50" r="1.75"/><circle cx="589.00" cy="437.60" r="1.75"/><circle cx="595.70" cy="441.90" r="1.75"/></g>
<rect x="521.30" y="338.40" width="154.00" height="112.40" fill="none" stroke="#666" stroke-width="0.8"/>
<line x1="521.30" y1="338.00" x2="521.30" y2="451.20" stroke="#8c8c8c" stroke-width="0.8"/>
<line x1="520.90" y1="450.80" x2="675.70" y2="450.80" stroke="#404040" stroke-width="0.8"/>
<line x1="521.30" y1="338.40" x2="523.50" y2="338.40" stroke="#555" stroke-width="0.7"/>
<text x="516.90" y="341.50" font-size="8.6" text-anchor="end" textLength="10.7" lengthAdjust="spacingAndGlyphs" fill="#111">20</text>
<line x1="521.30" y1="374.37" x2="523.50" y2="374.37" stroke="#555" stroke-width="0.7"/>
<text x="516.90" y="377.47" font-size="8.6" text-anchor="end" textLength="10.7" lengthAdjust="spacingAndGlyphs" fill="#111">22</text>
<line x1="521.30" y1="410.34" x2="523.50" y2="410.34" stroke="#555" stroke-width="0.7"/>
<text x="516.90" y="413.44" font-size="8.6" text-anchor="end" textLength="10.7" lengthAdjust="spacingAndGlyphs" fill="#111">24</text>
<line x1="521.30" y1="446.30" x2="523.50" y2="446.30" stroke="#555" stroke-width="0.7"/>
<text x="516.90" y="449.40" font-size="8.6" text-anchor="end" textLength="10.7" lengthAdjust="spacingAndGlyphs" fill="#111">26</text>
<line x1="521.30" y1="450.80" x2="521.30" y2="448.60" stroke="#555" stroke-width="0.7"/>
<text x="521.30" y="462.40" font-size="8.6" text-anchor="middle" fill="#111">0</text>
<line x1="546.97" y1="450.80" x2="546.97" y2="448.60" stroke="#555" stroke-width="0.7"/>
<text x="546.97" y="462.40" font-size="8.6" text-anchor="middle" textLength="18.6" lengthAdjust="spacingAndGlyphs" fill="#111">0.05</text>
<line x1="572.63" y1="450.80" x2="572.63" y2="448.60" stroke="#555" stroke-width="0.7"/>
<text x="572.63" y="462.40" font-size="8.6" text-anchor="middle" textLength="18.6" lengthAdjust="spacingAndGlyphs" fill="#111">0.10</text>
<line x1="598.30" y1="450.80" x2="598.30" y2="448.60" stroke="#555" stroke-width="0.7"/>
<text x="598.30" y="462.40" font-size="8.6" text-anchor="middle" textLength="18.6" lengthAdjust="spacingAndGlyphs" fill="#111">0.15</text>
<line x1="623.97" y1="450.80" x2="623.97" y2="448.60" stroke="#555" stroke-width="0.7"/>
<text x="623.97" y="462.40" font-size="8.6" text-anchor="middle" textLength="18.6" lengthAdjust="spacingAndGlyphs" fill="#111">0.20</text>
<line x1="649.63" y1="450.80" x2="649.63" y2="448.60" stroke="#555" stroke-width="0.7"/>
<text x="649.63" y="462.40" font-size="8.6" text-anchor="middle" textLength="18.6" lengthAdjust="spacingAndGlyphs" fill="#111">0.25</text>
<line x1="675.30" y1="450.80" x2="675.30" y2="448.60" stroke="#555" stroke-width="0.7"/>
<text x="675.30" y="462.40" font-size="8.6" text-anchor="middle" textLength="18.6" lengthAdjust="spacingAndGlyphs" fill="#111">0.30</text>
<text transform="translate(498.2,448.85) rotate(-90)" font-size="10.0" textLength="103" lengthAdjust="spacingAndGlyphs" fill="#111">Magnitude per arcsec</text>
<text transform="translate(494.6,345.55) rotate(-90)" font-size="6.8" fill="#111">2</text>
<line x1="617.20" y1="346.30" x2="633.50" y2="346.30" stroke="#0000ff" stroke-width="1.0"/>
<text x="640.70" y="349.90" font-size="9.6" textLength="29.5" lengthAdjust="spacingAndGlyphs" fill="#111">Model</text>
<path d="M617.6 356.8999999999999V368.09999999999997M615.9 356.8999999999999h3.4M615.9 368.09999999999997h3.4" stroke="#ff1a1a" stroke-width="0.85" opacity="0.9"/>
<circle cx="617.6" cy="362.49999999999994" r="1.75" fill="#ee0000" stroke="#400000" stroke-width="0.55"/>
<path d="M633.4 356.8999999999999V368.09999999999997M631.6999999999999 356.8999999999999h3.4M631.6999999999999 368.09999999999997h3.4" stroke="#ff1a1a" stroke-width="0.85" opacity="0.9"/>
<circle cx="633.4" cy="362.49999999999994" r="1.75" fill="#ee0000" stroke="#400000" stroke-width="0.55"/>
<text x="640.70" y="366.10" font-size="9.6" textLength="21.3" lengthAdjust="spacingAndGlyphs" fill="#111">Data</text>
<clipPath id="cp3"><rect x="521.3" y="472.6" width="154.0" height="113.0"/></clipPath>
<polyline points="521.30,477.70 529.30,481.80 533.40,485.50 537.30,489.70 542.80,496.70 547.30,502.70 552.80,510.50 559.30,518.20 568.10,528.10 577.30,539.00 587.80,552.40 597.00,562.30 603.60,568.20 611.50,572.20 620.30,573.10 641.70,585.60" fill="none" stroke="#1a1aff" stroke-width="1.1" clip-path="url(#cp3)"/>
<path d="M582.70 547.40V551.40M581.00 547.40h3.4M581.00 551.40h3.4M588.90 553.60V558.60M587.20 553.60h3.4M587.20 558.60h3.4M595.90 563.40V572.40M594.20 563.40h3.4M594.20 572.40h3.4M603.40 570.20V585.90M601.70 570.20h3.4M601.70 585.90h3.4" stroke="#ff1a1a" stroke-width="0.85" fill="none" opacity="0.9" clip-path="url(#cp3)"/>
<g fill="#ee0000" stroke="#400000" stroke-width="0.55"><circle cx="521.60" cy="476.70" r="1.75"/><circle cx="529.30" cy="481.80" r="1.75"/><circle cx="530.30" cy="482.60" r="1.75"/><circle cx="531.30" cy="483.50" r="1.75"/><circle cx="532.40" cy="484.50" r="1.75"/><circle cx="533.40" cy="485.50" r="1.75"/><circle cx="534.60" cy="486.70" r="1.75"/><circle cx="535.90" cy="488.00" r="1.75"/><circle cx="537.30" cy="489.70" r="1.75"/><circle cx="539.00" cy="492.00" r="1.75"/><circle cx="540.80" cy="494.20" r="1.75"/><circle cx="542.80" cy="496.70" r="1.75"/><circle cx="544.90" cy="499.50" r="1.75"/><circle cx="547.30" cy="502.70" r="1.75"/><circle cx="549.90" cy="506.80" r="1.75"/><circle cx="552.80" cy="511.10" r="1.75"/><circle cx="555.90" cy="514.20" r="1.75"/><circle cx="559.30" cy="518.50" r="1.75"/><circle cx="563.30" cy="522.90" r="1.75"/><circle cx="567.50" cy="528.90" r="1.75"/><circle cx="572.10" cy="534.70" r="1.75"/><circle cx="577.30" cy="540.60" r="1.75"/><circle cx="582.70" cy="549.40" r="1.75"/><circle cx="588.90" cy="556.10" r="1.75"/><circle cx="595.90" cy="567.60" r="1.75"/><circle cx="603.40" cy="577.00" r="1.75"/></g>
<rect x="521.30" y="472.60" width="154.00" height="113.00" fill="none" stroke="#666" stroke-width="0.8"/>
<line x1="521.30" y1="472.20" x2="521.30" y2="586.00" stroke="#8c8c8c" stroke-width="0.8"/>
<line x1="520.90" y1="585.60" x2="675.70" y2="585.60" stroke="#404040" stroke-width="0.8"/>
<line x1="521.30" y1="490.07" x2="523.50" y2="490.07" stroke="#555" stroke-width="0.7"/>
<text x="516.90" y="493.17" font-size="8.6" text-anchor="end" textLength="10.7" lengthAdjust="spacingAndGlyphs" fill="#111">22</text>
<line x1="521.30" y1="525.00" x2="523.50" y2="525.00" stroke="#555" stroke-width="0.7"/>
<text x="516.90" y="528.10" font-size="8.6" text-anchor="end" textLength="10.7" lengthAdjust="spacingAndGlyphs" fill="#111">24</text>
<line x1="521.30" y1="559.93" x2="523.50" y2="559.93" stroke="#555" stroke-width="0.7"/>
<text x="516.90" y="563.03" font-size="8.6" text-anchor="end" textLength="10.7" lengthAdjust="spacingAndGlyphs" fill="#111">26</text>
<line x1="521.30" y1="585.60" x2="521.30" y2="583.40" stroke="#555" stroke-width="0.7"/>
<text x="521.30" y="597.20" font-size="8.6" text-anchor="middle" fill="#111">0</text>
<line x1="546.97" y1="585.60" x2="546.97" y2="583.40" stroke="#555" stroke-width="0.7"/>
<text x="546.97" y="597.20" font-size="8.6" text-anchor="middle" textLength="18.6" lengthAdjust="spacingAndGlyphs" fill="#111">0.05</text>
<line x1="572.63" y1="585.60" x2="572.63" y2="583.40" stroke="#555" stroke-width="0.7"/>
<text x="572.63" y="597.20" font-size="8.6" text-anchor="middle" textLength="18.6" lengthAdjust="spacingAndGlyphs" fill="#111">0.10</text>
<line x1="598.30" y1="585.60" x2="598.30" y2="583.40" stroke="#555" stroke-width="0.7"/>
<text x="598.30" y="597.20" font-size="8.6" text-anchor="middle" textLength="18.6" lengthAdjust="spacingAndGlyphs" fill="#111">0.15</text>
<line x1="623.97" y1="585.60" x2="623.97" y2="583.40" stroke="#555" stroke-width="0.7"/>
<text x="623.97" y="597.20" font-size="8.6" text-anchor="middle" textLength="18.6" lengthAdjust="spacingAndGlyphs" fill="#111">0.20</text>
<line x1="649.63" y1="585.60" x2="649.63" y2="583.40" stroke="#555" stroke-width="0.7"/>
<text x="649.63" y="597.20" font-size="8.6" text-anchor="middle" textLength="18.6" lengthAdjust="spacingAndGlyphs" fill="#111">0.25</text>
<line x1="675.30" y1="585.60" x2="675.30" y2="583.40" stroke="#555" stroke-width="0.7"/>
<text x="675.30" y="597.20" font-size="8.6" text-anchor="middle" textLength="18.6" lengthAdjust="spacingAndGlyphs" fill="#111">0.30</text>
<text transform="translate(498.2,583.35) rotate(-90)" font-size="10.0" textLength="103" lengthAdjust="spacingAndGlyphs" fill="#111">Magnitude per arcsec</text>
<text transform="translate(494.6,480.05) rotate(-90)" font-size="6.8" fill="#111">2</text>
<line x1="617.20" y1="482.40" x2="633.50" y2="482.40" stroke="#0000ff" stroke-width="1.0"/>
<text x="640.70" y="486.00" font-size="9.6" textLength="29.5" lengthAdjust="spacingAndGlyphs" fill="#111">Model</text>
<path d="M617.6 493.0V504.20000000000005M615.9 493.0h3.4M615.9 504.20000000000005h3.4" stroke="#ff1a1a" stroke-width="0.85" opacity="0.9"/>
<circle cx="617.6" cy="498.6" r="1.75" fill="#ee0000" stroke="#400000" stroke-width="0.55"/>
<path d="M633.4 493.0V504.20000000000005M631.6999999999999 493.0h3.4M631.6999999999999 504.20000000000005h3.4" stroke="#ff1a1a" stroke-width="0.85" opacity="0.9"/>
<circle cx="633.4" cy="498.6" r="1.75" fill="#ee0000" stroke="#400000" stroke-width="0.55"/>
<text x="640.70" y="502.20" font-size="9.6" textLength="21.3" lengthAdjust="spacingAndGlyphs" fill="#111">Data</text>
<text x="598.40" y="610.90" font-size="10.0" text-anchor="middle" textLength="31.2" lengthAdjust="spacingAndGlyphs" fill="#111">arcsec</text>
</svg>
</div>
<script>
var INF=["000004", "0b0724", "210c4a", "3d0965", "57106e", "71196e", "8a226a", "a32c61", "bc3754", "d24644", "e45a31", "f1731d", "f98e09", "fcac11", "f9cb35", "f2ea69", "fcffa4"];var BWR=["0000ff", "4040ff", "8080ff", "c0c0ff", "ffffff", "ffbebe", "ff7e7e", "ff3e3e", "ff0000"];
var G={"d0": {"c": "i", "v": [[-0.6, -0.6, -0.6, 0.44, -0.6, -0.6, 0.65, 0.65, 0.65, 0.65, -0.6, 0.3, 0.56, -0.6, -0.6, -0.6], [0.3, 0.3, -0.6, -0.6, -0.6, -0.6, 0.65, 0.56, 0.18, 0.65, -0.6, -0.6, -0.6, -0.6, -0.6, 0.56], [0.65, 0.44, -0.6, -0.6, 0.65, 0.65, -0.6, -0.6, 0.3, 0.65, 0.18, -0.6, 0.65, 0.65, -0.6, -0.6], [0.65, 0.65, 0.65, -0.6, 0.71, 0.56, 0.65, 0.65, 0.44, 0.56, -0.6, -0.6, 0.65, 0.65, 0.56, -0.6], [-0.6, -0.6, -0.6, -0.6, 0.71, -0.6, 0.65, 0.65, -0.6, 0.44, -0.6, 0.44, 0.65, 0.56, -0.6, -0.6], [0.56, 0.65, 0.56, -0.6, 0.71, -0.6, 0.65, 0.71, 0.3, 0.56, -0.6, 0.3, -0.6, -0.6, -0.6, 0.3], [0.65, 0.65, 0.18, 0.18, 0.65, -0.6, 0.71, 0.79, 0.71, 0.71, 0.65, 0.65, 0.56, -0.6, 0.56, 0.56], [0.71, 0.65, -0.6, -0.6, 0.44, 0.65, 0.71, 0.79, 0.79, 0.71, 0.71, 0.65, 0.56, 0.3, 0.18, 0.44], [0.65, 0.3, -0.6, -0.6, -0.6, 0.71, 0.71, 0.79, 0.79, 0.71, 0.71, 0.71, -0.6, -0.6, -0.6, -0.6], [0.65, 0.65, 0.56, 0.65, 0.56, 0.65, 0.71, 0.71, 0.71, 0.71, 0.65, 0.44, 0.65, 0.3, 0.65, 0.65], [-0.6, 0.3, 0.65, 0.18, 0.18, 0.65, 0.71, 0.18, 0.3, 0.56, 0.18, 0.65, 0.65, 0.56, 0.65, 0.3], [0.65, 0.56, 0.18, 0.56, 0.65, 0.56, -0.6, -0.6, -0.6, 0.56, 0.65, 0.65, 0.18, -0.6, 0.65, -0.6], [-0.6, -0.6, 0.18, 0.65, 0.65, -0.6, -0.6, -0.6, -0.6, 0.56, 0.65, -0.6, -0.6, 0.18, 0.18, 0.65], [0.65, 0.71, 0.65, 0.56, 0.44, 0.56, 0.65, 0.65, -0.6, 0.18, 0.44, 0.56, 0.65, 0.65, 0.18, 0.56], [0.71, 0.71, 0.18, -0.6, -0.6, -0.6, 0.18, 0.3, 0.56, 0.56, -0.6, 0.56, 0.3, 0.65, -0.6, 0.65], [0.71, 0.65, -0.6, -0.6, -0.6, -0.6, -0.6, 0.56, 0.65, 0.44, -0.6, 0.56, 0.65, 0.18, 0.65, 0.65]], "k": [[0.49, 0.512, [[0, 0.98], [4, 0.95], [8, 0.86], [12, 0.75], [16, 0.66], [19, 0.55], [25, 0.43000000000000005], [31, 0.33000000000000007]]]]}, "p0": {"c": "i", "v": [[-0.6, -0.6, -0.6, 0.44, -0.6, -0.6, 0.65, 0.65, 0.65, 0.65, -0.6, 0.3, 0.56, -0.6, -0.6, -0.6], [0.3, 0.3, -0.6, -0.6, -0.6, -0.6, 0.65, 0.56, 0.18, 0.65, -0.6, -0.6, -0.6, -0.6, -0.6, 0.56], [0.65, 0.44, -0.6, -0.6, 0.65, 0.65, -0.6, -0.6, 0.3, 0.65, 0.18, -0.6, 0.65, 0.65, -0.6, -0.6], [0.65, 0.65, 0.65, -0.6, 0.71, 0.56, 0.65, 0.65, 0.44, 0.56, -0.6, -0.6, 0.65, 0.65, 0.56, -0.6], [-0.6, -0.6, -0.6, -0.6, 0.71, -0.6, 0.65, 0.65, -0.6, 0.44, -0.6, 0.44, 0.65, 0.56, -0.6, -0.6], [0.56, 0.65, 0.56, -0.6, 0.71, -0.6, 0.65, 0.71, 0.3, 0.56, -0.6, 0.3, -0.6, -0.6, -0.6, 0.3], [0.65, 0.65, 0.18, 0.18, 0.65, -0.6, 0.65, 0.65, 0.65, 0.65, 0.65, 0.65, 0.56, -0.6, 0.56, 0.56], [0.71, 0.65, -0.6, -0.6, 0.44, 0.65, 0.65, 0.71, 0.71, 0.65, 0.71, 0.65, 0.56, 0.3, 0.18, 0.44], [0.65, 0.3, -0.6, -0.6, -0.6, 0.71, 0.65, 0.71, 0.71, 0.65, 0.71, 0.71, -0.6, -0.6, -0.6, -0.6], [0.65, 0.65, 0.56, 0.65, 0.56, 0.65, 0.71, 0.65, 0.71, 0.71, 0.65, 0.44, 0.65, 0.3, 0.65, 0.65], [-0.6, 0.3, 0.65, 0.18, 0.18, 0.65, 0.71, 0.18, 0.3, 0.56, 0.18, 0.65, 0.65, 0.56, 0.65, 0.3], [0.65, 0.56, 0.18, 0.56, 0.65, 0.56, -0.6, -0.6, -0.6, 0.56, 0.65, 0.65, 0.18, -0.6, 0.65, -0.6], [-0.6, -0.6, 0.18, 0.65, 0.65, -0.6, -0.6, -0.6, -0.6, 0.56, 0.65, -0.6, -0.6, 0.18, 0.18, 0.65], [0.65, 0.71, 0.65, 0.56, 0.44, 0.56, 0.65, 0.65, -0.6, 0.18, 0.44, 0.56, 0.65, 0.65, 0.18, 0.56], [0.71, 0.71, 0.18, -0.6, -0.6, -0.6, 0.18, 0.3, 0.56, 0.56, -0.6, 0.56, 0.3, 0.65, -0.6, 0.65], [0.71, 0.65, -0.6, -0.6, -0.6, -0.6, -0.6, 0.56, 0.65, 0.44, -0.6, 0.56, 0.65, 0.18, 0.65, 0.65]], "k": [[0.49, 0.53, [[0, 0.74], [8, 0.7], [14, 0.62], [18, 0.5], [24, 0.38], [30, 0.28]]]]}, "m0": {"c": "i", "v": [[0.06, 0.09, 0.12, 0.14, 0.16, 0.17, 0.18, 0.19, 0.19, 0.19, 0.18, 0.16], [0.08, 0.11, 0.14, 0.17, 0.2, 0.21, 0.22, 0.22, 0.21, 0.2, 0.19, 0.17], [0.1, 0.12, 0.15, 0.19, 0.23, 0.26, 0.27, 0.27, 0.25, 0.22, 0.2, 0.18], [0.11, 0.13, 0.17, 0.23, 0.3, 0.38, 0.44, 0.48, 0.42, 0.28, 0.21, 0.19], [0.12, 0.14, 0.19, 0.27, 0.4, 0.58, 0.68, 0.7, 0.56, 0.34, 0.23, 0.2], [0.12, 0.15, 0.2, 0.3, 0.5, 0.6, 0.66, 0.72, 0.6, 0.38, 0.24, 0.2], [0.12, 0.15, 0.2, 0.3, 0.5, 0.6, 0.62, 0.62, 0.5, 0.36, 0.24, 0.2], [0.12, 0.14, 0.19, 0.27, 0.44, 0.56, 0.58, 0.56, 0.46, 0.31, 0.23, 0.19], [0.11, 0.13, 0.18, 0.24, 0.32, 0.4, 0.42, 0.4, 0.33, 0.26, 0.21, 0.19], [0.1, 0.12, 0.16, 0.21, 0.25, 0.28, 0.29, 0.28, 0.26, 0.23, 0.2, 0.18], [0.09, 0.11, 0.14, 0.17, 0.2, 0.22, 0.23, 0.23, 0.22, 0.2, 0.18, 0.17], [0.08, 0.1, 0.12, 0.14, 0.16, 0.17, 0.17, 0.18, 0.18, 0.17, 0.16, 0.15]], "k": [[0.497, 0.51, [[0, 0.97], [4, 0.92], [8, 0.84], [12, 0.76], [15, 0.68], [18, 0.56], [22, 0.46], [27, 0.4], [34, 0.3], [46, 0.2], [73.60000000000001, 0.05000000000000002]]]]}, "r0": {"c": "b", "v": [[0.38, 0.38, 0.38, 0.62, 0.5, 0.38, 0.62, 0.5, 0.74, 0.62, 0.38, 0.5, 0.62, 0.38, 0.38, 0.38], [0.24, 0.38, 0.38, 0.38, 0.38, 0.5, 0.62, 0.62, 0.38, 0.86, 0.5, 0.38, 0.38, 0.24, 0.1, 0.62], [0.62, 0.62, 0.5, 0.38, 0.74, 0.74, 0.38, 0.5, 0.62, 0.74, 0.5, 0.38, 0.74, 0.74, 0.38, 0.38], [0.62, 0.5, 0.74, 0.38, 0.74, 0.74, 0.62, 0.62, 0.62, 0.62, 0.5, 0.38, 0.86, 0.86, 0.74, 0.38], [0.1, 0.38, 0.38, 0.5, 0.74, 0.38, 0.62, 0.5, 0.38, 0.62, 0.38, 0.62, 0.74, 0.74, 0.5, 0.24], [0.5, 0.62, 0.62, 0.5, 0.86, 0.5, 0.62, 0.5, 0.5, 0.38, 0.38, 0.5, 0.38, 0.38, 0.24, 0.38], [0.5, 0.38, 0.38, 0.5, 0.74, 0.24, 0.5, 0.38, 0.5, 0.5, 0.62, 0.62, 0.62, 0.5, 0.62, 0.62], [0.62, 0.62, 0.38, 0.5, 0.74, 0.5, 0.5, 0.5, 0.62, 0.38, 0.62, 0.74, 0.62, 0.5, 0.62, 0.5], [0.62, 0.38, 0.38, 0.5, 0.38, 0.62, 0.62, 0.5, 0.5, 0.38, 0.62, 0.74, 0.38, 0.38, 0.38, 0.1], [0.74, 0.74, 0.74, 0.62, 0.62, 0.74, 0.74, 0.62, 0.74, 0.62, 0.74, 0.5, 0.62, 0.5, 0.62, 0.62], [0.24, 0.38, 0.62, 0.38, 0.38, 0.62, 0.5, 0.24, 0.38, 0.5, 0.5, 0.62, 0.62, 0.62, 0.62, 0.5], [0.62, 0.62, 0.5, 0.62, 0.74, 0.62, 0.1, 0.24, 0.1, 0.62, 0.62, 0.74, 0.62, 0.5, 0.62, 0.5], [0.5, 0.38, 0.38, 0.62, 0.74, 0.5, 0.38, 0.38, 0.5, 0.5, 0.74, 0.38, 0.38, 0.24, 0.5, 0.62], [0.74, 0.86, 0.62, 0.5, 0.62, 0.62, 0.74, 0.74, 0.38, 0.38, 0.5, 0.5, 0.74, 0.62, 0.5, 0.5], [0.86, 0.97, 0.62, 0.5, 0.62, 0.5, 0.5, 0.5, 0.5, 0.38, 0.5, 0.62, 0.5, 0.74, 0.38, 0.62], [0.74, 0.62, 0.38, 0.38, 0.38, 0.1, 0.5, 0.5, 0.62, 0.5, 0.24, 0.5, 0.62, 0.5, 0.74, 0.62]]}, "d1": {"c": "i", "v": [[-0.6, 0.44, 0.56, 0.56, 0.56, -0.6, 0.65, -0.6, -0.6, -0.6, 0.18, -0.6, 0.56, 0.44, 0.44, 0.56], [-0.6, -0.6, 0.3, 0.56, 0.56, -0.6, 0.18, -0.6, -0.6, 0.3, 0.56, -0.6, -0.6, 0.56, 0.65, 0.44], [0.56, -0.6, 0.44, 0.18, 0.56, -0.6, 0.56, 0.65, 0.3, 0.65, 0.65, -0.6, 0.3, 0.44, 0.56, 0.56], [0.56, -0.6, -0.6, -0.6, -0.6, -0.6, 0.44, 0.3, -0.6, 0.65, 0.56, -0.6, 0.56, 0.56, 0.18, 0.56], [-0.6, -0.6, 0.18, -0.6, 0.56, 0.65, 0.18, 0.65, 0.44, -0.6, 0.18, -0.6, 0.44, 0.18, 0.3, -0.6], [0.44, 0.56, 0.56, -0.6, 0.65, 0.65, 0.65, 0.65, 0.56, 0.18, 0.65, 0.56, -0.6, -0.6, -0.6, -0.6], [0.18, 0.44, -0.6, 0.65, 0.65, 0.65, 0.18, 0.65, 0.79, 0.65, 0.65, 0.65, 0.56, 0.44, 0.56, 0.18], [0.3, 0.56, 0.18, 0.65, 0.65, 0.3, 0.71, 0.79, 0.79, 0.71, 0.71, 0.71, 0.65, 0.18, 0.65, 0.18], [-0.6, 0.3, 0.44, -0.6, 0.3, 0.65, 0.71, 0.79, 0.79, 0.71, 0.71, 0.65, 0.65, 0.18, 0.44, -0.6], [-0.6, 0.3, -0.6, -0.6, 0.56, 0.65, 0.71, 0.71, 0.71, 0.65, 0.65, 0.65, 0.65, 0.56, -0.6, -0.6], [-0.6, -0.6, 0.56, -0.6, 0.65, 0.44, 0.65, 0.65, 0.65, 0.44, -0.6, -0.6, 0.65, 0.71, 0.65, -0.6], [0.44, -0.6, 0.56, 0.18, -0.6, 0.18, 0.65, 0.3, 0.65, 0.56, 0.18, 0.18, 0.65, 0.65, -0.6, 0.56], [-0.6, -0.6, 0.56, 0.56, -0.6, -0.6, 0.18, 0.65, 0.71, 0.65, 0.65, 0.65, 0.56, 0.65, -0.6, 0.56], [0.44, 0.56, 0.65, 0.65, 0.71, 0.3, -0.6, 0.65, 0.3, -0.6, -0.6, -0.6, -0.6, 0.65, 0.18, -0.6], [0.18, -0.6, -0.6, -0.6, 0.56, -0.6, 0.56, 0.65, 0.56, -0.6, -0.6, -0.6, -0.6, 0.56, -0.6, -0.6], [0.71, -0.6, -0.6, -0.6, -0.6, -0.6, 0.65, 0.65, 0.56, -0.6, -0.6, -0.6, 0.18, -0.6, -0.6, -0.6]], "k": [[0.503, 0.52, [[0, 0.98], [4, 0.95], [8.5, 0.86], [12.5, 0.75], [16, 0.66], [19, 0.55], [25, 0.43000000000000005], [31, 0.33000000000000007]]]]}, "p1": {"c": "i", "v": [[-0.6, 0.44, 0.56, 0.56, 0.56, -0.6, 0.65, -0.6, -0.6, -0.6, 0.18, -0.6, 0.56, 0.44, 0.44, 0.56], [-0.6, -0.6, 0.3, 0.56, 0.56, -0.6, 0.18, -0.6, -0.6, 0.3, 0.56, -0.6, -0.6, 0.56, 0.65, 0.44], [0.56, -0.6, 0.44, 0.18, 0.56, -0.6, 0.56, 0.65, 0.3, 0.65, 0.65, -0.6, 0.3, 0.44, 0.56, 0.56], [0.56, -0.6, -0.6, -0.6, -0.6, -0.6, 0.44, 0.3, -0.6, 0.65, 0.56, -0.6, 0.56, 0.56, 0.18, 0.56], [-0.6, -0.6, 0.18, -0.6, 0.56, 0.65, 0.18, 0.65, 0.44, -0.6, 0.18, -0.6, 0.44, 0.18, 0.3, -0.6], [0.44, 0.56, 0.56, -0.6, 0.65, 0.65, 0.65, 0.65, 0.56, 0.18, 0.65, 0.56, -0.6, -0.6, -0.6, -0.6], [0.18, 0.44, -0.6, 0.65, 0.65, 0.65, 0.18, 0.65, 0.71, 0.65, 0.65, 0.65, 0.56, 0.44, 0.56, 0.18], [0.3, 0.56, 0.18, 0.65, 0.65, 0.3, 0.71, 0.79, 0.79, 0.71, 0.71, 0.71, 0.65, 0.18, 0.65, 0.18], [-0.6, 0.3, 0.44, -0.6, 0.3, 0.65, 0.71, 0.79, 0.79, 0.71, 0.71, 0.65, 0.65, 0.18, 0.44, -0.6], [-0.6, 0.3, -0.6, -0.6, 0.56, 0.65, 0.71, 0.71, 0.71, 0.65, 0.65, 0.65, 0.65, 0.56, -0.6, -0.6], [-0.6, -0.6, 0.56, -0.6, 0.65, 0.44, 0.65, 0.65, 0.65, 0.44, -0.6, -0.6, 0.65, 0.71, 0.65, -0.6], [0.44, -0.6, 0.56, 0.18, -0.6, 0.18, 0.65, 0.3, 0.65, 0.56, 0.18, 0.18, 0.65, 0.65, -0.6, 0.56], [-0.6, -0.6, 0.56, 0.56, -0.6, -0.6, 0.18, 0.65, 0.71, 0.65, 0.65, 0.65, 0.56, 0.65, -0.6, 0.56], [0.44, 0.56, 0.65, 0.65, 0.71, 0.3, -0.6, 0.65, 0.3, -0.6, -0.6, -0.6, -0.6, 0.65, 0.18, -0.6], [0.18, -0.6, -0.6, -0.6, 0.56, -0.6, 0.56, 0.65, 0.56, -0.6, -0.6, -0.6, -0.6, 0.56, -0.6, -0.6], [0.71, -0.6, -0.6, -0.6, -0.6, -0.6, 0.65, 0.65, 0.56, -0.6, -0.6, -0.6, 0.18, -0.6, -0.6, -0.6]], "k": [[0.5, 0.5, [[0, 0.82], [6, 0.78], [12, 0.7], [16, 0.6], [22, 0.48], [28, 0.38]]]]}, "m1": {"c": "i", "v": [[0.11, 0.12, 0.16, 0.19, 0.21, 0.2, 0.18, 0.19, 0.21, 0.21, 0.19, 0.16], [0.12, 0.14, 0.19, 0.24, 0.28, 0.28, 0.26, 0.26, 0.28, 0.27, 0.24, 0.2], [0.12, 0.15, 0.22, 0.29, 0.34, 0.36, 0.34, 0.34, 0.34, 0.31, 0.26, 0.22], [0.16, 0.2, 0.26, 0.33, 0.4, 0.42, 0.43, 0.4, 0.39, 0.34, 0.28, 0.23], [0.2, 0.24, 0.3, 0.37, 0.5, 0.6, 0.6, 0.6, 0.48, 0.38, 0.3, 0.24], [0.22, 0.26, 0.32, 0.4, 0.6, 0.6, 0.6, 0.6, 0.58, 0.41, 0.31, 0.25], [0.22, 0.26, 0.32, 0.4, 0.6, 0.6, 0.6, 0.6, 0.57, 0.41, 0.31, 0.25], [0.21, 0.25, 0.31, 0.38, 0.52, 0.6, 0.6, 0.6, 0.5, 0.39, 0.3, 0.24], [0.2, 0.24, 0.29, 0.35, 0.42, 0.46, 0.48, 0.45, 0.42, 0.35, 0.28, 0.22], [0.19, 0.23, 0.27, 0.31, 0.35, 0.38, 0.39, 0.38, 0.35, 0.31, 0.25, 0.2], [0.17, 0.21, 0.25, 0.28, 0.31, 0.33, 0.34, 0.33, 0.31, 0.28, 0.23, 0.19], [0.15, 0.18, 0.21, 0.24, 0.26, 0.28, 0.28, 0.28, 0.26, 0.24, 0.21, 0.17]], "k": [[0.498, 0.507, [[0, 0.97], [4, 0.93], [8, 0.85], [13, 0.76], [16.5, 0.68], [19.5, 0.57], [23, 0.46], [28, 0.4], [38, 0.3], [51, 0.2], [81.60000000000001, 0.05000000000000002]]]]}, "r1": {"c": "b", "v": [[0.38, 0.68, 0.68, 0.57, 0.47, 0.47, 0.57, 0.47, 0.47, 0.38, 0.38, 0.47, 0.57, 0.57, 0.57, 0.57], [0.38, 0.57, 0.47, 0.47, 0.57, 0.47, 0.38, 0.28, 0.38, 0.38, 0.68, 0.38, 0.47, 0.47, 0.68, 0.47], [0.57, 0.47, 0.57, 0.47, 0.38, 0.57, 0.38, 0.57, 0.47, 0.68, 0.68, 0.28, 0.47, 0.57, 0.57, 0.57], [0.57, 0.38, 0.47, 0.38, 0.38, 0.38, 0.47, 0.38, 0.38, 0.57, 0.57, 0.38, 0.57, 0.47, 0.57, 0.47], [0.38, 0.38, 0.57, 0.38, 0.57, 0.57, 0.47, 0.68, 0.57, 0.47, 0.47, 0.38, 0.57, 0.57, 0.47, 0.38], [0.47, 0.57, 0.57, 0.47, 0.57, 0.57, 0.47, 0.57, 0.57, 0.38, 0.57, 0.57, 0.47, 0.38, 0.38, 0.38], [0.47, 0.38, 0.47, 0.57, 0.57, 0.47, 0.38, 0.38, 0.47, 0.47, 0.57, 0.57, 0.57, 0.47, 0.47, 0.47], [0.28, 0.57, 0.47, 0.57, 0.57, 0.47, 0.47, 0.57, 0.57, 0.38, 0.57, 0.68, 0.57, 0.47, 0.57, 0.38], [0.47, 0.38, 0.38, 0.38, 0.57, 0.57, 0.47, 0.57, 0.47, 0.38, 0.57, 0.57, 0.57, 0.47, 0.57, 0.38], [0.47, 0.38, 0.15, 0.38, 0.47, 0.57, 0.57, 0.47, 0.57, 0.38, 0.47, 0.57, 0.57, 0.57, 0.47, 0.28], [0.38, 0.38, 0.47, 0.38, 0.57, 0.57, 0.57, 0.38, 0.38, 0.57, 0.47, 0.38, 0.47, 0.68, 0.47, 0.47], [0.57, 0.47, 0.57, 0.47, 0.47, 0.47, 0.57, 0.47, 0.57, 0.57, 0.47, 0.57, 0.57, 0.57, 0.38, 0.57], [0.47, 0.47, 0.57, 0.47, 0.38, 0.47, 0.47, 0.57, 0.68, 0.57, 0.68, 0.57, 0.57, 0.68, 0.38, 0.47], [0.47, 0.47, 0.57, 0.57, 0.68, 0.57, 0.47, 0.57, 0.47, 0.47, 0.47, 0.47, 0.38, 0.47, 0.28, 0.47], [0.47, 0.38, 0.38, 0.38, 0.57, 0.47, 0.47, 0.57, 0.38, 0.47, 0.47, 0.38, 0.28, 0.47, 0.47, 0.47], [0.85, 0.47, 0.38, 0.38, 0.47, 0.38, 0.57, 0.57, 0.57, 0.47, 0.38, 0.47, 0.38, 0.47, 0.47, 0.47]]}, "d2": {"c": "i", "v": [[-0.15, 0.18, 0.18, -0.15, -0.15, -0.15, 0.3, -0.15, -0.15, 0.3, 0.3, -0.15, 0.44, 0.3, -0.15, -0.15], [-0.15, -0.15, -0.15, -0.15, 0.3, 0.18, -0.15, -0.15, -0.15, 0.44, 0.3, -0.15, 0.44, 0.3, 0.3, 0.3], [-0.15, 0.3, 0.44, 0.3, -0.15, 0.18, 0.18, -0.15, -0.15, 0.3, 0.18, -0.15, 0.3, -0.15, 0.44, 0.44], [0.3, 0.3, -0.15, -0.15, 0.18, 0.44, 0.44, 0.3, 0.3, 0.3, -0.15, 0.18, -0.15, -0.15, -0.15, -0.15], [0.3, 0.3, 0.18, 0.18, -0.15, 0.44, 0.44, 0.44, 0.3, -0.15, -0.15, 0.3, -0.15, -0.15, -0.15, 0.18], [0.3, 0.3, 0.3, -0.15, 0.18, 0.44, 0.56, 0.65, 0.56, 0.3, -0.15, 0.18, -0.15, -0.15, 0.18, -0.15], [0.3, 0.3, 0.3, 0.18, 0.3, 0.56, 0.65, 0.65, 0.65, 0.56, 0.3, 0.3, 0.3, 0.3, -0.15, 0.18], [0.18, -0.15, -0.15, -0.15, 0.18, 0.56, 0.65, 0.71, 0.71, 0.65, 0.44, 0.44, 0.44, 0.44, 0.3, 0.3], [0.3, -0.15, 0.3, 0.44, 0.44, 0.56, 0.65, 0.71, 0.71, 0.65, 0.56, 0.56, 0.56, 0.56, 0.44, 0.3], [0.44, 0.18, 0.3, -0.15, 0.44, 0.44, 0.56, 0.65, 0.65, 0.56, 0.56, 0.71, 0.79, 0.79, 0.56, 0.18], [0.3, 0.3, 0.44, -0.15, 0.44, 0.44, 0.44, 0.56, 0.56, 0.56, 0.56, 0.71, 0.88, 0.79, 0.56, 0.44], [0.3, -0.15, 0.44, 0.3, 0.18, 0.44, 0.44, 0.56, 0.56, 0.44, 0.56, 0.65, 0.71, 0.65, 0.44, 0.44], [-0.15, 0.18, 0.44, 0.44, 0.3, -0.15, 0.3, 0.56, 0.56, 0.44, 0.3, 0.3, 0.44, 0.56, 0.44, -0.15], [-0.15, 0.3, 0.3, -0.15, -0.15, 0.44, 0.44, -0.15, 0.18, 0.3, 0.44, 0.44, -0.15, 0.44, 0.44, 0.3], [-0.15, 0.3, 0.44, -0.15, -0.15, 0.44, 0.44, -0.15, -0.15, 0.3, 0.44, 0.44, 0.18, -0.15, 0.44, 0.3], [-0.15, 0.18, 0.18, -0.15, -0.15, 0.44, 0.3, -0.15, 0.3, 0.44, 0.44, 0.44, 0.18, 0.44, 0.44, 0.44]], "k": [[0.498, 0.507, [[0, 0.98], [3, 0.94], [5, 0.88], [10, 0.72], [14, 0.6], [18, 0.5], [24, 0.38], [30, 0.28]]], [0.784, 0.645, [[0, 0.88], [4, 0.82], [8, 0.7], [12, 0.58], [15, 0.48], [21, 0.36], [27, 0.26]]]]}, "p2": {"c": "i", "v": [[-0.15, 0.18, 0.18, -0.15, -0.15, -0.15, 0.3, -0.15, -0.15, 0.3, 0.3, -0.15, 0.44, 0.3, -0.15, -0.15], [-0.15, -0.15, -0.15, -0.15, 0.3, 0.18, -0.15, -0.15, -0.15, 0.44, 0.3, -0.15, 0.44, 0.3, 0.3, 0.3], [-0.15, 0.3, 0.44, 0.3, -0.15, 0.18, 0.18, -0.15, -0.15, 0.3, 0.18, -0.15, 0.3, -0.15, 0.44, 0.44], [0.3, 0.3, -0.15, -0.15, 0.18, 0.44, 0.44, 0.3, 0.3, 0.3, -0.15, 0.18, -0.15, -0.15, -0.15, -0.15], [0.3, 0.3, 0.18, 0.18, -0.15, 0.44, 0.44, 0.44, 0.3, -0.15, -0.15, 0.3, -0.15, -0.15, -0.15, 0.18], [0.3, 0.3, 0.3, -0.15, 0.18, 0.44, 0.44, 0.56, 0.56, 0.44, 0.44, 0.18, -0.15, -0.15, 0.18, -0.15], [0.3, 0.3, 0.3, 0.18, 0.3, 0.44, 0.56, 0.65, 0.65, 0.56, 0.44, 0.3, 0.3, 0.3, -0.15, 0.18], [0.18, -0.15, -0.15, -0.15, 0.18, 0.56, 0.56, 0.65, 0.71, 0.65, 0.56, 0.44, 0.44, 0.44, 0.3, 0.3], [0.3, -0.15, 0.3, 0.44, 0.44, 0.56, 0.65, 0.65, 0.65, 0.65, 0.56, 0.56, 0.56, 0.56, 0.44, 0.3], [0.44, 0.18, 0.3, -0.15, 0.44, 0.44, 0.56, 0.56, 0.56, 0.56, 0.56, 0.71, 0.79, 0.79, 0.56, 0.18], [0.3, 0.3, 0.44, -0.15, 0.44, 0.44, 0.44, 0.56, 0.56, 0.56, 0.56, 0.71, 0.88, 0.79, 0.56, 0.44], [0.3, -0.15, 0.44, 0.3, 0.18, 0.44, 0.44, 0.56, 0.56, 0.44, 0.56, 0.65, 0.71, 0.65, 0.44, 0.44], [-0.15, 0.18, 0.44, 0.44, 0.3, -0.15, 0.3, 0.56, 0.56, 0.44, 0.3, 0.3, 0.44, 0.56, 0.44, -0.15], [-0.15, 0.3, 0.3, -0.15, -0.15, 0.44, 0.44, -0.15, 0.18, 0.3, 0.44, 0.44, -0.15, 0.44, 0.44, 0.3], [-0.15, 0.3, 0.44, -0.15, -0.15, 0.44, 0.44, -0.15, -0.15, 0.3, 0.44, 0.44, 0.18, -0.15, 0.44, 0.3], [-0.15, 0.18, 0.18, -0.15, -0.15, 0.44, 0.3, -0.15, 0.3, 0.44, 0.44, 0.44, 0.18, 0.44, 0.44, 0.44]], "k": [[0.784, 0.645, [[0, 0.88], [4, 0.82], [8, 0.7], [12, 0.58], [16, 0.45], [22, 0.33], [28, 0.23]]]]}, "m2": {"c": "i", "v": [[0.05, 0.07, 0.09, 0.11, 0.14, 0.17, 0.17, 0.14, 0.11, 0.09, 0.07, 0.05], [0.07, 0.09, 0.11, 0.13, 0.17, 0.21, 0.21, 0.17, 0.13, 0.11, 0.09, 0.07], [0.08, 0.1, 0.12, 0.15, 0.2, 0.25, 0.25, 0.2, 0.15, 0.12, 0.1, 0.08], [0.1, 0.12, 0.15, 0.2, 0.28, 0.34, 0.34, 0.28, 0.2, 0.15, 0.12, 0.1], [0.14, 0.17, 0.21, 0.28, 0.38, 0.46, 0.46, 0.38, 0.28, 0.21, 0.17, 0.14], [0.18, 0.22, 0.26, 0.34, 0.46, 0.6, 0.6, 0.46, 0.34, 0.26, 0.22, 0.18], [0.18, 0.22, 0.26, 0.34, 0.46, 0.6, 0.6, 0.46, 0.34, 0.26, 0.22, 0.18], [0.14, 0.17, 0.21, 0.28, 0.38, 0.46, 0.46, 0.38, 0.28, 0.21, 0.17, 0.14], [0.1, 0.12, 0.15, 0.2, 0.28, 0.34, 0.34, 0.28, 0.2, 0.15, 0.12, 0.1], [0.08, 0.1, 0.12, 0.15, 0.2, 0.25, 0.25, 0.2, 0.15, 0.12, 0.1, 0.08], [0.06, 0.08, 0.1, 0.12, 0.16, 0.2, 0.2, 0.16, 0.12, 0.1, 0.08, 0.06], [0.04, 0.06, 0.08, 0.1, 0.13, 0.16, 0.16, 0.13, 0.1, 0.08, 0.06, 0.04]], "k": [[0.498, 0.507, [[0, 0.98], [3.5, 0.93], [6, 0.86], [8.5, 0.75], [12, 0.66], [15.5, 0.57], [19, 0.46], [24, 0.35], [32, 0.24], [42, 0.13], [67.2, -0.01999999999999999]]]]}, "r2": {"c": "b", "v": [[0.5, 0.58, 0.58, 0.5, 0.42, 0.5, 0.58, 0.5, 0.5, 0.58, 0.5, 0.42], [0.42, 0.5, 0.58, 0.58, 0.5, 0.58, 0.5, 0.42, 0.5, 0.5, 0.58, 0.5], [0.58, 0.5, 0.42, 0.5, 0.58, 0.58, 0.5, 0.58, 0.42, 0.5, 0.5, 0.5], [0.58, 0.58, 0.5, 0.5, 0.5, 0.5, 0.58, 0.5, 0.42, 0.42, 0.5, 0.5], [0.58, 0.58, 0.5, 0.58, 0.5, 0.5, 0.58, 0.5, 0.5, 0.5, 0.58, 0.5], [0.5, 0.5, 0.42, 0.42, 0.5, 0.42, 0.95, 0.42, 0.5, 0.58, 0.5, 0.58], [0.58, 0.5, 0.5, 0.5, 0.58, 0.8, 0.32, 0.58, 0.5, 0.5, 0.5, 0.5], [0.58, 0.5, 0.5, 0.42, 0.5, 0.5, 0.42, 0.58, 0.5, 0.5, 0.5, 0.5], [0.5, 0.58, 0.58, 0.5, 0.5, 0.58, 0.68, 0.58, 0.5, 0.5, 0.5, 0.5], [0.5, 0.58, 0.58, 0.5, 0.5, 0.58, 0.68, 0.58, 0.58, 0.5, 0.5, 0.58], [0.5, 0.5, 0.5, 0.42, 0.58, 0.5, 0.58, 0.58, 0.58, 0.58, 0.5, 0.58], [0.5, 0.5, 0.5, 0.42, 0.5, 0.58, 0.58, 0.58, 0.5, 0.5, 0.58, 0.58]]}, "d3": {"c": "i", "v": [[0.44, 0.44, 0.44, 0.44, -0.15, -0.15, -0.15, 0.18, -0.15, 0.44, 0.3, 0.3, 0.44, -0.15, -0.15, 0.44], [0.56, 0.44, 0.44, 0.3, -0.15, 0.44, -0.15, -0.15, 0.3, 0.44, -0.15, 0.18, 0.44, 0.3, -0.15, 0.3], [-0.15, -0.15, 0.18, 0.44, 0.44, 0.44, -0.15, 0.3, -0.15, 0.18, -0.15, -0.15, 0.44, 0.44, -0.15, 0.3], [0.44, 0.3, 0.44, 0.44, -0.15, 0.44, 0.44, 0.44, -0.15, 0.44, 0.3, -0.15, 0.3, 0.18, -0.15, -0.15], [0.18, -0.15, -0.15, -0.15, -0.15, 0.3, 0.44, 0.44, 0.44, 0.18, 0.3, 0.18, 0.3, -0.15, 0.44, 0.44], [0.44, -0.15, -0.15, 0.44, -0.15, -0.15, 0.56, 0.56, 0.56, 0.56, 0.44, -0.15, 0.3, 0.18, 0.44, 0.44], [0.44, 0.56, 0.44, 0.3, 0.44, -0.15, 0.56, 0.65, 0.65, 0.65, 0.56, 0.44, 0.44, 0.56, 0.44, -0.15], [0.3, 0.44, 0.44, 0.18, 0.56, 0.65, 0.65, 0.71, 0.71, 0.65, 0.56, 0.44, 0.56, 0.44, 0.56, 0.44], [-0.15, -0.15, 0.18, -0.15, 0.44, 0.65, 0.65, 0.71, 0.71, 0.65, 0.65, 0.65, 0.71, 0.65, 0.56, 0.44], [0.44, 0.44, 0.44, -0.15, -0.15, 0.44, 0.56, 0.65, 0.65, 0.65, 0.56, 0.71, 0.79, 0.79, 0.56, 0.44], [-0.15, 0.56, 0.18, 0.44, 0.44, 0.18, -0.15, 0.18, 0.44, 0.56, 0.56, 0.65, 0.88, 0.79, 0.56, 0.44], [-0.15, 0.56, 0.44, 0.44, 0.44, -0.15, 0.44, 0.44, 0.3, 0.56, 0.56, 0.56, 0.56, 0.56, 0.44, 0.44], [-0.15, 0.44, 0.44, 0.18, 0.56, 0.56, 0.3, 0.44, 0.44, 0.44, -0.15, 0.3, -0.15, 0.56, 0.44, 0.44], [-0.15, 0.44, 0.18, 0.56, 0.56, 0.44, 0.18, 0.44, 0.18, 0.44, -0.15, 0.44, 0.44, 0.18, 0.3, 0.56], [0.44, 0.44, 0.44, 0.44, 0.44, 0.18, 0.3, 0.44, -0.15, 0.18, 0.44, -0.15, 0.44, 0.44, 0.44, 0.44], [-0.15, 0.18, -0.15, 0.44, -0.15, 0.44, 0.56, 0.44, 0.44, -0.15, 0.44, -0.15, -0.15, -0.15, -0.15, 0.3]], "k": [[0.49, 0.49, [[0, 0.98], [4, 0.94], [7, 0.87], [13, 0.72], [16, 0.62], [20, 0.5], [26, 0.38], [32, 0.28]]], [0.79, 0.63, [[0, 0.88], [4, 0.82], [8, 0.7], [12, 0.58], [15, 0.48], [21, 0.36], [27, 0.26]]]]}, "p3": {"c": "i", "v": [[0.44, 0.44, 0.44, 0.44, -0.15, -0.15, -0.15, 0.18, -0.15, 0.44, 0.3, 0.3, 0.44, -0.15, -0.15, 0.44], [0.56, 0.44, 0.44, 0.3, -0.15, 0.44, -0.15, -0.15, 0.3, 0.44, -0.15, 0.18, 0.44, 0.3, -0.15, 0.3], [-0.15, -0.15, 0.18, 0.44, 0.44, 0.44, -0.15, 0.3, -0.15, 0.18, -0.15, -0.15, 0.44, 0.44, -0.15, 0.3], [0.44, 0.3, 0.44, 0.44, -0.15, 0.44, 0.44, 0.44, -0.15, 0.44, 0.3, -0.15, 0.3, 0.18, -0.15, -0.15], [0.18, -0.15, -0.15, -0.15, -0.15, 0.3, 0.44, 0.44, 0.44, 0.18, 0.3, 0.18, 0.3, -0.15, 0.44, 0.44], [0.44, -0.15, -0.15, 0.44, -0.15, 0.44, 0.44, 0.56, 0.65, 0.65, 0.56, -0.15, 0.3, 0.18, 0.44, 0.44], [0.44, 0.56, 0.44, 0.3, 0.44, 0.44, 0.56, 0.65, 0.65, 0.65, 0.56, 0.44, 0.44, 0.56, 0.44, -0.15], [0.3, 0.44, 0.44, 0.18, 0.56, 0.44, 0.56, 0.65, 0.71, 0.65, 0.65, 0.44, 0.56, 0.44, 0.56, 0.44], [-0.15, -0.15, 0.18, -0.15, 0.44, 0.44, 0.56, 0.56, 0.65, 0.65, 0.65, 0.65, 0.71, 0.65, 0.56, 0.44], [0.44, 0.44, 0.44, -0.15, -0.15, 0.44, 0.44, 0.56, 0.56, 0.56, 0.56, 0.71, 0.79, 0.79, 0.56, 0.44], [-0.15, 0.56, 0.18, 0.44, 0.44, 0.44, 0.44, 0.44, 0.56, 0.56, 0.56, 0.65, 0.88, 0.79, 0.56, 0.44], [-0.15, 0.56, 0.44, 0.44, 0.44, -0.15, 0.44, 0.44, 0.3, 0.56, 0.56, 0.56, 0.56, 0.56, 0.44, 0.44], [-0.15, 0.44, 0.44, 0.18, 0.56, 0.56, 0.3, 0.44, 0.44, 0.44, -0.15, 0.3, -0.15, 0.56, 0.44, 0.44], [-0.15, 0.44, 0.18, 0.56, 0.56, 0.44, 0.18, 0.44, 0.18, 0.44, -0.15, 0.44, 0.44, 0.18, 0.3, 0.56], [0.44, 0.44, 0.44, 0.44, 0.44, 0.18, 0.3, 0.44, -0.15, 0.18, 0.44, -0.15, 0.44, 0.44, 0.44, 0.44], [-0.15, 0.18, -0.15, 0.44, -0.15, 0.44, 0.56, 0.44, 0.44, -0.15, 0.44, -0.15, -0.15, -0.15, -0.15, 0.3]], "k": [[0.784, 0.63, [[0, 0.88], [4, 0.82], [8, 0.7], [12, 0.58], [16, 0.45], [22, 0.33], [28, 0.23]]]]}, "m3": {"c": "i", "v": [[0.06, 0.09, 0.12, 0.15, 0.18, 0.2, 0.19, 0.17, 0.14, 0.11, 0.09, 0.06], [0.07, 0.1, 0.14, 0.18, 0.21, 0.24, 0.23, 0.2, 0.16, 0.13, 0.1, 0.07], [0.08, 0.11, 0.15, 0.19, 0.24, 0.28, 0.27, 0.23, 0.18, 0.14, 0.11, 0.08], [0.1, 0.13, 0.17, 0.22, 0.3, 0.36, 0.36, 0.3, 0.22, 0.16, 0.13, 0.1], [0.15, 0.18, 0.22, 0.29, 0.4, 0.48, 0.48, 0.4, 0.29, 0.21, 0.16, 0.13], [0.21, 0.24, 0.28, 0.35, 0.48, 0.6, 0.6, 0.48, 0.35, 0.28, 0.24, 0.2], [0.21, 0.24, 0.28, 0.35, 0.48, 0.6, 0.6, 0.48, 0.35, 0.28, 0.24, 0.2], [0.15, 0.17, 0.21, 0.28, 0.4, 0.48, 0.48, 0.4, 0.28, 0.21, 0.16, 0.13], [0.1, 0.12, 0.15, 0.2, 0.28, 0.35, 0.35, 0.28, 0.2, 0.16, 0.12, 0.09], [0.07, 0.1, 0.12, 0.16, 0.21, 0.26, 0.26, 0.21, 0.16, 0.13, 0.1, 0.07], [0.05, 0.07, 0.09, 0.13, 0.17, 0.2, 0.2, 0.17, 0.13, 0.1, 0.07, 0.05], [0.03, 0.05, 0.07, 0.1, 0.13, 0.15, 0.15, 0.13, 0.1, 0.07, 0.05, 0.04]], "k": [[0.498, 0.49, [[0, 0.98], [4, 0.93], [8, 0.85], [11, 0.76], [14.5, 0.68], [18, 0.6], [21, 0.52], [24, 0.42], [29, 0.32], [37, 0.22], [46, 0.12], [73.60000000000001, -0.03]]]]}, "r3": {"c": "b", "v": [[0.62, 0.62, 0.5, 0.62, 0.62, 0.1, 0.38, 0.5, 0.38, 0.62, 0.62, 0.62, 0.74, 0.38, 0.38, 0.62], [0.5, 0.38, 0.5, 0.38, 0.62, 0.38, 0.38, 0.38, 0.5, 0.62, 0.38, 0.24, 0.62, 0.62, 0.38, 0.5], [0.74, 0.5, 0.24, 0.62, 0.62, 0.5, 0.38, 0.38, 0.24, 0.5, 0.24, 0.24, 0.74, 0.62, 0.5, 0.5], [0.62, 0.62, 0.5, 0.62, 0.38, 0.38, 0.62, 0.62, 0.38, 0.5, 0.62, 0.38, 0.62, 0.5, 0.5, 0.5], [0.62, 0.38, 0.38, 0.38, 0.38, 0.38, 0.62, 0.62, 0.5, 0.5, 0.5, 0.5, 0.38, 0.38, 0.62, 0.74], [0.62, 0.5, 0.38, 0.62, 0.24, 0.38, 0.62, 0.38, 0.38, 0.74, 0.62, 0.38, 0.62, 0.5, 0.62, 0.74], [0.62, 0.62, 0.5, 0.5, 0.38, 0.24, 0.5, 0.5, 0.5, 0.38, 0.74, 0.62, 0.62, 0.74, 0.74, 0.38], [0.62, 0.62, 0.5, 0.74, 0.62, 0.5, 0.5, 0.24, 0.62, 0.24, 0.5, 0.62, 0.62, 0.62, 0.62, 0.62], [0.5, 0.38, 0.5, 0.38, 0.5, 0.62, 0.38, 0.62, 0.62, 0.62, 0.5, 0.38, 0.5, 0.5, 0.5, 0.62], [0.62, 0.62, 0.62, 0.38, 0.38, 0.62, 0.38, 0.38, 0.24, 0.5, 0.62, 0.5, 0.5, 0.5, 0.5, 0.62], [0.5, 0.62, 0.5, 0.5, 0.38, 0.62, 0.38, 0.38, 0.24, 0.5, 0.5, 0.5, 0.5, 0.5, 0.62, 0.62], [0.38, 0.74, 0.62, 0.62, 0.62, 0.38, 0.5, 0.5, 0.62, 0.62, 0.62, 0.62, 0.5, 0.5, 0.62, 0.62], [0.5, 0.62, 0.62, 0.38, 0.62, 0.62, 0.5, 0.74, 0.5, 0.5, 0.24, 0.5, 0.24, 0.62, 0.74, 0.62], [0.24, 0.5, 0.5, 0.74, 0.86, 0.62, 0.5, 0.62, 0.5, 0.5, 0.1, 0.62, 0.62, 0.5, 0.62, 0.74], [0.5, 0.62, 0.62, 0.62, 0.62, 0.5, 0.5, 0.62, 0.38, 0.38, 0.62, 0.38, 0.62, 0.62, 0.62, 0.5], [0.5, 0.5, 0.38, 0.5, 0.62, 0.5, 0.62, 0.74, 0.5, 0.38, 0.62, 0.38, 0.38, 0.38, 0.38, 0.5]]}};
function hx(c){return [parseInt(c.substr(0,2),16),parseInt(c.substr(2,2),16),parseInt(c.substr(4,2),16)];}
var INFc=INF.map(hx),BWRc=BWR.map(hx);
function cmap(tab,v){if(v<0)v=0;if(v>1)v=1;var f=v*(tab.length-1),i=Math.floor(f);if(i>=tab.length-1)return tab[tab.length-1];var t=f-i,a=tab[i],b=tab[i+1];return [a[0]+(b[0]-a[0])*t,a[1]+(b[1]-a[1])*t,a[2]+(b[2]-a[2])*t];}
function cub(p0,p1,p2,p3,t){return p1+0.5*t*(p2-p0+t*(2*p0-5*p1+4*p2-p3+t*(3*(p1-p2)+p3-p0)));}
var S=2;function prof(p,r){if(r<=p[0][0])return p[0][1];for(var i=1;i<p.length;i++){if(r<=p[i][0]){var t=(r-p[i-1][0])/(p[i][0]-p[i-1][0]);return p[i-1][1]+(p[i][1]-p[i-1][1])*t;}}return -1;}
function draw(id){
 var g=G[id];if(!g)return;var cv=document.getElementById(id);var ctx=cv.getContext('2d');
 var W=cv.width,H=cv.height;var rows=g.v;var n=rows.length,m=rows[0].length;
 var im=ctx.createImageData(W,H);var d=im.data;var tab=g.c=='b'?BWRc:INFc;
 function at(i,j){if(i<0)i=0;if(i>n-1)i=n-1;if(j<0)j=0;if(j>m-1)j=m-1;return rows[i][j];}
 for(var y=0;y<H;y++){var fy=(y+0.5)/H*n-0.5;var iy=Math.floor(fy),ty=fy-iy;
  for(var x=0;x<W;x++){var fx=(x+0.5)/W*m-0.5;var ix=Math.floor(fx),tx=fx-ix;
   var c=[];for(var k=-1;k<3;k++){c.push(cub(at(iy+k,ix-1),at(iy+k,ix),at(iy+k,ix+1),at(iy+k,ix+2),tx));}
   var v=cub(c[0],c[1],c[2],c[3],ty);var a1=at(iy,ix),a2=at(iy,ix+1),a3=at(iy+1,ix),a4=at(iy+1,ix+1);var mn=Math.min(a1,a2,a3,a4),mx=Math.max(a1,a2,a3,a4);if(v<mn)v=mn;if(v>mx)v=mx;if(g.k){for(var q=0;q<g.k.length;q++){var K=g.k[q];var P=K[2];var rO=P[P.length-1][0],rI=rO*(K[3]||0.55);var dx=(x+0.5)/W-K[0],dy=(y+0.5)/H-K[1];var rr=Math.sqrt(dx*dx*W*W+dy*dy*H*H)/S;if(rr<rO){var pv=prof(P,rr);var mm=pv>v?pv:v;var w=1;if(rr>rI){var t=(rr-rI)/(rO-rI);w=1-t*t*(3-2*t);}v=v*(1-w)+mm*w;}}}var col=cmap(tab,v);var o=(y*W+x)*4;
   d[o]=col[0];d[o+1]=col[1];d[o+2]=col[2];d[o+3]=255;}}
 ctx.putImageData(im,0,0);
}
for(var k in G)draw(k);
</script>
</body></html>
